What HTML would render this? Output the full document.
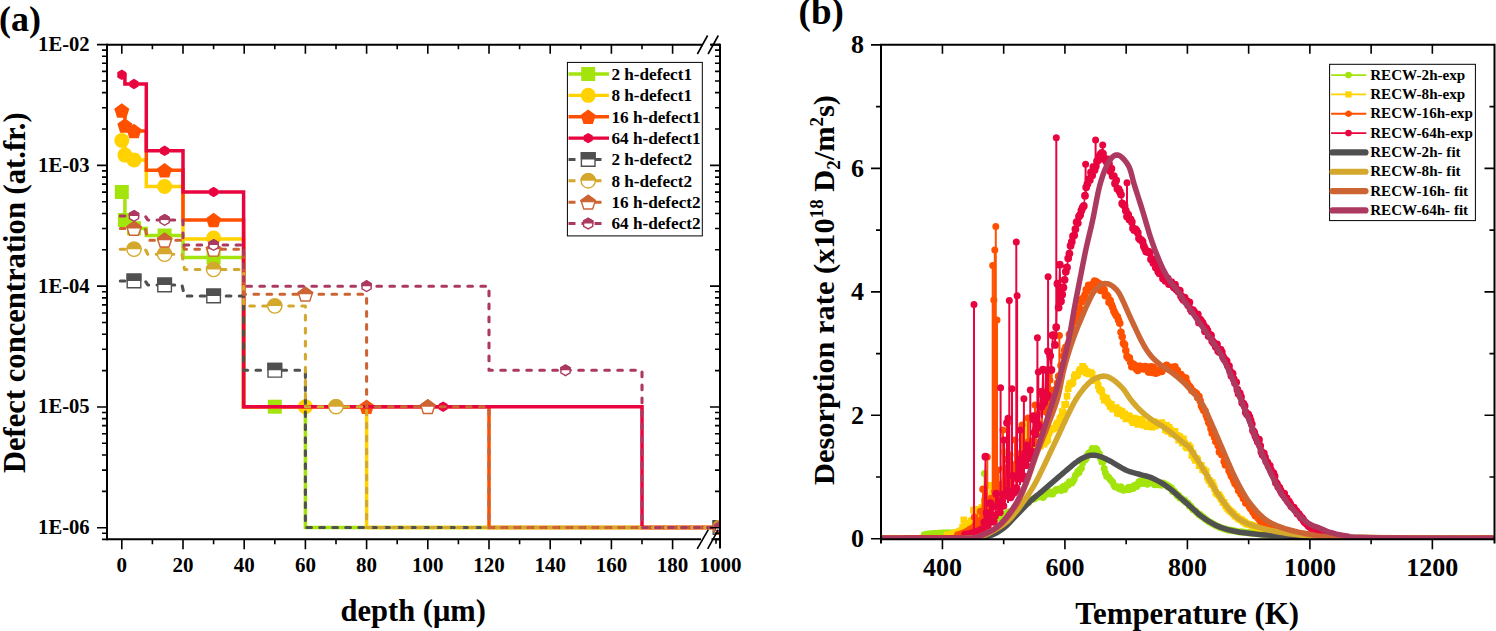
<!DOCTYPE html>
<html><head><meta charset="utf-8"><style>
html,body{margin:0;padding:0;background:#fff;}
body{width:1496px;height:631px;overflow:hidden;}
svg{display:block;}
</style></head><body>
<svg width="1496" height="631" viewBox="0 0 1496 631" font-family="'Liberation Serif', serif" font-weight="bold">
<defs><clipPath id="clipA"><rect x="107.0" y="44.8" width="613.0" height="494.40000000000003"/></clipPath>
<clipPath id="clipB"><rect x="881.0" y="44.8" width="613.5" height="494.49999999999994"/></clipPath></defs>
<rect width="1496" height="631" fill="#fff"/>
<g clip-path="url(#clipA)">
<path d="M121.8,191.9L124.9,191.9L124.9,220L134,228.5L146.3,228.5L146.3,235.6L183,235.6L183,257.5L243.6,257.5L243.6,406.7L305.4,406.7L305.4,527.5L722,527.5" fill="none" stroke="#a2e40c" stroke-width="3.5" stroke-linejoin="miter"/>
<path d="M114.8,184.9H128.8V198.9H114.8Z" fill="#a2e40c"/>
<path d="M117.9,213H131.9V227H117.9Z" fill="#a2e40c"/>
<path d="M127,221.3H141V235.3H127Z" fill="#a2e40c"/>
<path d="M157.6,228.6H171.6V242.6H157.6Z" fill="#a2e40c"/>
<path d="M206.6,250.5H220.6V264.5H206.6Z" fill="#a2e40c"/>
<path d="M267.8,399.7H281.8V413.7H267.8Z" fill="#a2e40c"/>
<path d="M713,520.5H727V534.5H713Z" fill="#a2e40c"/>
<path d="M121.8,140.5L124.9,140.5L124.9,155.1L134,159.9L146.3,159.9L146.3,186.5L183,186.5L183,239L243.6,239L243.6,406.7L366.6,406.7L366.6,527.5L722,527.5" fill="none" stroke="#ffd200" stroke-width="3.5" stroke-linejoin="miter"/>
<circle cx="121.8" cy="140.5" r="7.5" fill="#ffd200"/>
<circle cx="124.9" cy="155.1" r="7.5" fill="#ffd200"/>
<circle cx="134" cy="159.9" r="7.5" fill="#ffd200"/>
<circle cx="164.6" cy="186.5" r="7.5" fill="#ffd200"/>
<circle cx="213.6" cy="238" r="7.5" fill="#ffd200"/>
<circle cx="305.4" cy="406.7" r="7.5" fill="#ffd200"/>
<circle cx="720" cy="527.5" r="7.5" fill="#ffd200"/>
<path d="M121.8,110.5L124.9,110.5L124.9,125.5L134,131L146.3,131L146.3,170.2L183,170.2L183,220L243.6,220L243.6,406.7L489,406.7L489,527.5L722,527.5" fill="none" stroke="#ff5000" stroke-width="3.5" stroke-linejoin="miter"/>
<path d="M121.8,103.3L129.36,108.79L126.47,117.68L117.13,117.68L114.24,108.79Z" fill="#ff5000"/>
<path d="M124.9,118.3L132.46,123.79L129.57,132.68L120.23,132.68L117.34,123.79Z" fill="#ff5000"/>
<path d="M134,123.8L141.56,129.29L138.67,138.18L129.33,138.18L126.44,129.29Z" fill="#ff5000"/>
<path d="M164.6,163L172.16,168.49L169.27,177.38L159.93,177.38L157.04,168.49Z" fill="#ff5000"/>
<path d="M213.6,212.8L221.16,218.29L218.27,227.18L208.93,227.18L206.04,218.29Z" fill="#ff5000"/>
<path d="M366.6,399.5L374.16,404.99L371.27,413.88L361.93,413.88L359.04,404.99Z" fill="#ff5000"/>
<path d="M720,520.3L727.56,525.79L724.67,534.68L715.33,534.68L712.44,525.79Z" fill="#ff5000"/>
<path d="M121.8,74.8L124.9,74.8L124.9,84L146.3,84L146.3,150.8L183,150.8L183,192L243.6,192L243.6,406.7L642,406.7L642,527.5L722,527.5" fill="none" stroke="#e8043f" stroke-width="3.5" stroke-linejoin="miter"/>
<path d="M121.8,69.6L126.3,72.2L126.3,77.4L121.8,80L117.3,77.4L117.3,72.2Z" fill="#e8043f"/>
<path d="M134,78.8L138.5,81.4L138.5,86.6L134,89.2L129.5,86.6L129.5,81.4Z" fill="#e8043f"/>
<path d="M164.6,145.6L169.1,148.2L169.1,153.4L164.6,156L160.1,153.4L160.1,148.2Z" fill="#e8043f"/>
<path d="M213.6,186.8L218.1,189.4L218.1,194.6L213.6,197.2L209.1,194.6L209.1,189.4Z" fill="#e8043f"/>
<path d="M443.1,401.5L447.6,404.1L447.6,409.3L443.1,411.9L438.6,409.3L438.6,404.1Z" fill="#e8043f"/>
<path d="M720,522.3L724.5,524.9L724.5,530.1L720,532.7L715.5,530.1L715.5,524.9Z" fill="#e8043f"/>
<path d="M120.3,281L145.3,281L147.8,285L182,285L184.5,296L243.6,296L243.6,370.3L305.4,370.3L305.4,527.5L722,527.5" fill="none" stroke="#505050" stroke-width="3.1" stroke-dasharray="4.6 8.4" stroke-linecap="round" stroke-linejoin="round"/>
<path d="M127.2,274.2H140.8V287.8H127.2Z" fill="#fff" stroke="#505050" stroke-width="1.4"/>
<clipPath id="c38"><rect x="120.4" y="267.4" width="27.2" height="13.6"/></clipPath>
<path d="M127.2,274.2H140.8V287.8H127.2Z" fill="#505050" stroke="#505050" stroke-width="1.4" clip-path="url(#c38)"/>
<path d="M157.8,278.2H171.4V291.8H157.8Z" fill="#fff" stroke="#505050" stroke-width="1.4"/>
<clipPath id="c41"><rect x="151" y="271.4" width="27.2" height="13.6"/></clipPath>
<path d="M157.8,278.2H171.4V291.8H157.8Z" fill="#505050" stroke="#505050" stroke-width="1.4" clip-path="url(#c41)"/>
<path d="M206.8,289.2H220.4V302.8H206.8Z" fill="#fff" stroke="#505050" stroke-width="1.4"/>
<clipPath id="c44"><rect x="200" y="282.4" width="27.2" height="13.6"/></clipPath>
<path d="M206.8,289.2H220.4V302.8H206.8Z" fill="#505050" stroke="#505050" stroke-width="1.4" clip-path="url(#c44)"/>
<path d="M268,363.5H281.6V377.1H268Z" fill="#fff" stroke="#505050" stroke-width="1.4"/>
<clipPath id="c47"><rect x="261.2" y="356.7" width="27.2" height="13.6"/></clipPath>
<path d="M268,363.5H281.6V377.1H268Z" fill="#505050" stroke="#505050" stroke-width="1.4" clip-path="url(#c47)"/>
<path d="M713.2,520.7H726.8V534.3H713.2Z" fill="#fff" stroke="#505050" stroke-width="1.4"/>
<clipPath id="c50"><rect x="706.4" y="513.9" width="27.2" height="13.6"/></clipPath>
<path d="M713.2,520.7H726.8V534.3H713.2Z" fill="#505050" stroke="#505050" stroke-width="1.4" clip-path="url(#c50)"/>
<path d="M120.3,249.3L145.3,249.3L147.8,254.3L182,254.3L184.5,269.5L243.6,269.5L243.6,306L305.4,306L305.4,406.7L366.6,406.7L366.6,527.5L722,527.5" fill="none" stroke="#d4a82c" stroke-width="3.1" stroke-dasharray="4.6 8.4" stroke-linecap="round" stroke-linejoin="round"/>
<circle cx="134" cy="249.3" r="7.1" fill="#fff" stroke="#d4a82c" stroke-width="1.4"/>
<clipPath id="c54"><rect x="119.8" y="235.1" width="28.4" height="14.2"/></clipPath>
<circle cx="134" cy="249.3" r="7.1" fill="#d4a82c" stroke="#d4a82c" stroke-width="1.4" clip-path="url(#c54)"/>
<circle cx="164.6" cy="254.3" r="7.1" fill="#fff" stroke="#d4a82c" stroke-width="1.4"/>
<clipPath id="c57"><rect x="150.4" y="240.1" width="28.4" height="14.2"/></clipPath>
<circle cx="164.6" cy="254.3" r="7.1" fill="#d4a82c" stroke="#d4a82c" stroke-width="1.4" clip-path="url(#c57)"/>
<circle cx="213.6" cy="269.5" r="7.1" fill="#fff" stroke="#d4a82c" stroke-width="1.4"/>
<clipPath id="c60"><rect x="199.4" y="255.3" width="28.4" height="14.2"/></clipPath>
<circle cx="213.6" cy="269.5" r="7.1" fill="#d4a82c" stroke="#d4a82c" stroke-width="1.4" clip-path="url(#c60)"/>
<circle cx="274.8" cy="306" r="7.1" fill="#fff" stroke="#d4a82c" stroke-width="1.4"/>
<clipPath id="c63"><rect x="260.6" y="291.8" width="28.4" height="14.2"/></clipPath>
<circle cx="274.8" cy="306" r="7.1" fill="#d4a82c" stroke="#d4a82c" stroke-width="1.4" clip-path="url(#c63)"/>
<circle cx="336" cy="406.7" r="7.1" fill="#fff" stroke="#d4a82c" stroke-width="1.4"/>
<clipPath id="c66"><rect x="321.8" y="392.5" width="28.4" height="14.2"/></clipPath>
<circle cx="336" cy="406.7" r="7.1" fill="#d4a82c" stroke="#d4a82c" stroke-width="1.4" clip-path="url(#c66)"/>
<circle cx="720" cy="527.5" r="7.1" fill="#fff" stroke="#d4a82c" stroke-width="1.4"/>
<clipPath id="c69"><rect x="705.8" y="513.3" width="28.4" height="14.2"/></clipPath>
<circle cx="720" cy="527.5" r="7.1" fill="#d4a82c" stroke="#d4a82c" stroke-width="1.4" clip-path="url(#c69)"/>
<path d="M120.3,228.5L145.3,228.5L147.8,240.2L182,240.2L184.5,249.3L243.6,249.3L243.6,294.2L366.6,294.2L366.6,406.7L489,406.7L489,527.5L722,527.5" fill="none" stroke="#cd6434" stroke-width="3.1" stroke-dasharray="4.6 8.4" stroke-linecap="round" stroke-linejoin="round"/>
<path d="M134,221.68L141.16,226.88L138.42,235.3L129.58,235.3L126.84,226.88Z" fill="#fff" stroke="#cd6434" stroke-width="1.4"/>
<clipPath id="c73"><rect x="119.8" y="214.3" width="28.4" height="14.2"/></clipPath>
<path d="M134,221.68L141.16,226.88L138.42,235.3L129.58,235.3L126.84,226.88Z" fill="#cd6434" stroke="#cd6434" stroke-width="1.4" clip-path="url(#c73)"/>
<path d="M164.6,233.38L171.76,238.58L169.02,247L160.18,247L157.44,238.58Z" fill="#fff" stroke="#cd6434" stroke-width="1.4"/>
<clipPath id="c76"><rect x="150.4" y="226" width="28.4" height="14.2"/></clipPath>
<path d="M164.6,233.38L171.76,238.58L169.02,247L160.18,247L157.44,238.58Z" fill="#cd6434" stroke="#cd6434" stroke-width="1.4" clip-path="url(#c76)"/>
<path d="M213.6,242.48L220.76,247.68L218.02,256.1L209.18,256.1L206.44,247.68Z" fill="#fff" stroke="#cd6434" stroke-width="1.4"/>
<clipPath id="c79"><rect x="199.4" y="235.1" width="28.4" height="14.2"/></clipPath>
<path d="M213.6,242.48L220.76,247.68L218.02,256.1L209.18,256.1L206.44,247.68Z" fill="#cd6434" stroke="#cd6434" stroke-width="1.4" clip-path="url(#c79)"/>
<path d="M305.4,287.38L312.56,292.58L309.82,301L300.98,301L298.24,292.58Z" fill="#fff" stroke="#cd6434" stroke-width="1.4"/>
<clipPath id="c82"><rect x="291.2" y="280" width="28.4" height="14.2"/></clipPath>
<path d="M305.4,287.38L312.56,292.58L309.82,301L300.98,301L298.24,292.58Z" fill="#cd6434" stroke="#cd6434" stroke-width="1.4" clip-path="url(#c82)"/>
<path d="M427.8,399.88L434.96,405.08L432.22,413.5L423.38,413.5L420.64,405.08Z" fill="#fff" stroke="#cd6434" stroke-width="1.4"/>
<clipPath id="c85"><rect x="413.6" y="392.5" width="28.4" height="14.2"/></clipPath>
<path d="M427.8,399.88L434.96,405.08L432.22,413.5L423.38,413.5L420.64,405.08Z" fill="#cd6434" stroke="#cd6434" stroke-width="1.4" clip-path="url(#c85)"/>
<path d="M720,520.68L727.16,525.88L724.42,534.3L715.58,534.3L712.84,525.88Z" fill="#fff" stroke="#cd6434" stroke-width="1.4"/>
<clipPath id="c88"><rect x="705.8" y="513.3" width="28.4" height="14.2"/></clipPath>
<path d="M720,520.68L727.16,525.88L724.42,534.3L715.58,534.3L712.84,525.88Z" fill="#cd6434" stroke="#cd6434" stroke-width="1.4" clip-path="url(#c88)"/>
<path d="M120.3,216L145.3,216L147.8,220L183,220L183,245L243.6,245L243.6,286.2L489,286.2L489,370.3L642,370.3L642,527.5L722,527.5" fill="none" stroke="#ac3a60" stroke-width="3.1" stroke-dasharray="4.6 8.4" stroke-linecap="round" stroke-linejoin="round"/>
<path d="M134,210.7L138.59,213.35L138.59,218.65L134,221.3L129.41,218.65L129.41,213.35Z" fill="#fff" stroke="#ac3a60" stroke-width="1.4"/>
<clipPath id="c92"><rect x="123.4" y="205.4" width="21.2" height="10.6"/></clipPath>
<path d="M134,210.7L138.59,213.35L138.59,218.65L134,221.3L129.41,218.65L129.41,213.35Z" fill="#ac3a60" stroke="#ac3a60" stroke-width="1.4" clip-path="url(#c92)"/>
<path d="M164.6,214.7L169.19,217.35L169.19,222.65L164.6,225.3L160.01,222.65L160.01,217.35Z" fill="#fff" stroke="#ac3a60" stroke-width="1.4"/>
<clipPath id="c95"><rect x="154" y="209.4" width="21.2" height="10.6"/></clipPath>
<path d="M164.6,214.7L169.19,217.35L169.19,222.65L164.6,225.3L160.01,222.65L160.01,217.35Z" fill="#ac3a60" stroke="#ac3a60" stroke-width="1.4" clip-path="url(#c95)"/>
<path d="M213.6,239.7L218.19,242.35L218.19,247.65L213.6,250.3L209.01,247.65L209.01,242.35Z" fill="#fff" stroke="#ac3a60" stroke-width="1.4"/>
<clipPath id="c98"><rect x="203" y="234.4" width="21.2" height="10.6"/></clipPath>
<path d="M213.6,239.7L218.19,242.35L218.19,247.65L213.6,250.3L209.01,247.65L209.01,242.35Z" fill="#ac3a60" stroke="#ac3a60" stroke-width="1.4" clip-path="url(#c98)"/>
<path d="M366.6,280.9L371.19,283.55L371.19,288.85L366.6,291.5L362.01,288.85L362.01,283.55Z" fill="#fff" stroke="#ac3a60" stroke-width="1.4"/>
<clipPath id="c101"><rect x="356" y="275.6" width="21.2" height="10.6"/></clipPath>
<path d="M366.6,280.9L371.19,283.55L371.19,288.85L366.6,291.5L362.01,288.85L362.01,283.55Z" fill="#ac3a60" stroke="#ac3a60" stroke-width="1.4" clip-path="url(#c101)"/>
<path d="M565.5,365L570.09,367.65L570.09,372.95L565.5,375.6L560.91,372.95L560.91,367.65Z" fill="#fff" stroke="#ac3a60" stroke-width="1.4"/>
<clipPath id="c104"><rect x="554.9" y="359.7" width="21.2" height="10.6"/></clipPath>
<path d="M565.5,365L570.09,367.65L570.09,372.95L565.5,375.6L560.91,372.95L560.91,367.65Z" fill="#ac3a60" stroke="#ac3a60" stroke-width="1.4" clip-path="url(#c104)"/>
<path d="M720,522.2L724.59,524.85L724.59,530.15L720,532.8L715.41,530.15L715.41,524.85Z" fill="#fff" stroke="#ac3a60" stroke-width="1.4"/>
<clipPath id="c107"><rect x="709.4" y="516.9" width="21.2" height="10.6"/></clipPath>
<path d="M720,522.2L724.59,524.85L724.59,530.15L720,532.8L715.41,530.15L715.41,524.85Z" fill="#ac3a60" stroke="#ac3a60" stroke-width="1.4" clip-path="url(#c107)"/>
</g>
<path d="M107.0,43.8V540.2" stroke="#000" stroke-width="2" fill="none"/>
<path d="M107.0,44.8H702.4M710.5,44.8H720.0" stroke="#000" stroke-width="2" fill="none"/>
<path d="M107.0,539.2H701M711.5,539.2H720.0" stroke="#000" stroke-width="2" fill="none"/>
<path d="M720.0,43.8V548.5" stroke="#000" stroke-width="2" fill="none"/>
<path d="M697.4,54L707.6,35.5M708.1,54L718.3,35.5" stroke="#000" stroke-width="1.6" fill="none"/>
<path d="M697.2,548.8L708.3,529.7M707.7,548.8L718.3,529.7" stroke="#000" stroke-width="1.6" fill="none"/>
<path d="M97,44.6H107.0M720.0,44.6H710M102,129.02H107.0M720.0,129.02H715M102,107.75H107.0M720.0,107.75H715M102,92.66H107.0M720.0,92.66H715M102,80.96H107.0M720.0,80.96H715M102,71.39H107.0M720.0,71.39H715M102,63.31H107.0M720.0,63.31H715M102,56.3H107.0M720.0,56.3H715M102,50.13H107.0M720.0,50.13H715M97,165.38H107.0M720.0,165.38H710M102,249.8H107.0M720.0,249.8H715M102,228.53H107.0M720.0,228.53H715M102,213.44H107.0M720.0,213.44H715M102,201.74H107.0M720.0,201.74H715M102,192.17H107.0M720.0,192.17H715M102,184.09H107.0M720.0,184.09H715M102,177.08H107.0M720.0,177.08H715M102,170.91H107.0M720.0,170.91H715M97,286.16H107.0M720.0,286.16H710M102,370.58H107.0M720.0,370.58H715M102,349.31H107.0M720.0,349.31H715M102,334.22H107.0M720.0,334.22H715M102,322.52H107.0M720.0,322.52H715M102,312.95H107.0M720.0,312.95H715M102,304.87H107.0M720.0,304.87H715M102,297.86H107.0M720.0,297.86H715M102,291.69H107.0M720.0,291.69H715M97,406.94H107.0M720.0,406.94H710M102,491.36H107.0M720.0,491.36H715M102,470.09H107.0M720.0,470.09H715M102,455H107.0M720.0,455H715M102,443.3H107.0M720.0,443.3H715M102,433.73H107.0M720.0,433.73H715M102,425.65H107.0M720.0,425.65H715M102,418.64H107.0M720.0,418.64H715M102,412.47H107.0M720.0,412.47H715M97,527.72H107.0M720.0,527.72H710M102,533.25H107.0M720.0,533.25H715M102,533.25H107.0M720.0,533.25H715M102,539.42H107.0M720.0,539.42H715M121.8,539.2V549.2M121.8,44.8V53.8M152.4,539.2V544.2M152.4,44.8V49.3M183,539.2V549.2M183,44.8V53.8M213.6,539.2V544.2M213.6,44.8V49.3M244.2,539.2V549.2M244.2,44.8V53.8M274.8,539.2V544.2M274.8,44.8V49.3M305.4,539.2V549.2M305.4,44.8V53.8M336,539.2V544.2M336,44.8V49.3M366.6,539.2V549.2M366.6,44.8V53.8M397.2,539.2V544.2M397.2,44.8V49.3M427.8,539.2V549.2M427.8,44.8V53.8M458.4,539.2V544.2M458.4,44.8V49.3M489,539.2V549.2M489,44.8V53.8M519.6,539.2V544.2M519.6,44.8V49.3M550.2,539.2V549.2M550.2,44.8V53.8M580.8,539.2V544.2M580.8,44.8V49.3M611.4,539.2V549.2M611.4,44.8V53.8M642,539.2V544.2M642,44.8V49.3M672.6,539.2V549.2M672.6,44.8V53.8M716,539.2V543.7" stroke="#000" stroke-width="1.6" fill="none"/>
<rect x="567.4" y="62.4" width="134.9" height="173.5" fill="#fff" stroke="#000" stroke-width="1"/>
<path d="M568.5,74H609" stroke="#a2e40c" stroke-width="3.4" fill="none"/>
<path d="M581.2,67H595.2V81H581.2Z" fill="#a2e40c"/>
<text x="611.4" y="79.8" font-size="17.2">2 h-defect1</text>
<path d="M568.5,95.37H609" stroke="#ffd200" stroke-width="3.4" fill="none"/>
<circle cx="588.2" cy="95.37" r="7.5" fill="#ffd200"/>
<text x="611.4" y="101.17" font-size="17.2">8 h-defect1</text>
<path d="M568.5,116.74H609" stroke="#ff5000" stroke-width="3.4" fill="none"/>
<path d="M588.2,109.54L595.76,115.03L592.87,123.92L583.53,123.92L580.64,115.03Z" fill="#ff5000"/>
<text x="611.4" y="122.54" font-size="17.2">16 h-defect1</text>
<path d="M568.5,138.11H609" stroke="#e8043f" stroke-width="3.4" fill="none"/>
<path d="M588.2,132.91L592.7,135.51L592.7,140.71L588.2,143.31L583.7,140.71L583.7,135.51Z" fill="#e8043f"/>
<text x="611.4" y="143.91" font-size="17.2">64 h-defect1</text>
<path d="M568.5,159.48H601.5" stroke="#505050" stroke-width="3" stroke-dasharray="7 6" fill="none"/>
<path d="M581.4,152.68H595V166.28H581.4Z" fill="#fff" stroke="#505050" stroke-width="1.4"/>
<clipPath id="c132"><rect x="574.6" y="145.88" width="27.2" height="13.6"/></clipPath>
<path d="M581.4,152.68H595V166.28H581.4Z" fill="#505050" stroke="#505050" stroke-width="1.4" clip-path="url(#c132)"/>
<text x="611.4" y="165.28" font-size="17.2">2 h-defect2</text>
<path d="M568.5,180.85H601.5" stroke="#d4a82c" stroke-width="3" stroke-dasharray="7 6" fill="none"/>
<circle cx="588.2" cy="180.85" r="7.1" fill="#fff" stroke="#d4a82c" stroke-width="1.4"/>
<clipPath id="c137"><rect x="574" y="166.65" width="28.4" height="14.2"/></clipPath>
<circle cx="588.2" cy="180.85" r="7.1" fill="#d4a82c" stroke="#d4a82c" stroke-width="1.4" clip-path="url(#c137)"/>
<text x="611.4" y="186.65" font-size="17.2">8 h-defect2</text>
<path d="M568.5,202.22H601.5" stroke="#cd6434" stroke-width="3" stroke-dasharray="7 6" fill="none"/>
<path d="M588.2,195.4L595.36,200.6L592.62,209.02L583.78,209.02L581.04,200.6Z" fill="#fff" stroke="#cd6434" stroke-width="1.4"/>
<clipPath id="c142"><rect x="574" y="188.02" width="28.4" height="14.2"/></clipPath>
<path d="M588.2,195.4L595.36,200.6L592.62,209.02L583.78,209.02L581.04,200.6Z" fill="#cd6434" stroke="#cd6434" stroke-width="1.4" clip-path="url(#c142)"/>
<text x="611.4" y="208.02" font-size="17.2">16 h-defect2</text>
<path d="M568.5,223.59H601.5" stroke="#ac3a60" stroke-width="3" stroke-dasharray="7 6" fill="none"/>
<path d="M588.2,218.29L592.79,220.94L592.79,226.24L588.2,228.89L583.61,226.24L583.61,220.94Z" fill="#fff" stroke="#ac3a60" stroke-width="1.4"/>
<clipPath id="c147"><rect x="577.6" y="212.99" width="21.2" height="10.6"/></clipPath>
<path d="M588.2,218.29L592.79,220.94L592.79,226.24L588.2,228.89L583.61,226.24L583.61,220.94Z" fill="#ac3a60" stroke="#ac3a60" stroke-width="1.4" clip-path="url(#c147)"/>
<text x="611.4" y="229.39" font-size="17.2">64 h-defect2</text>
<text x="89.6" y="51.1" font-size="20.6" text-anchor="end">1E-02</text>
<text x="89.6" y="171.88" font-size="20.6" text-anchor="end">1E-03</text>
<text x="89.6" y="292.66" font-size="20.6" text-anchor="end">1E-04</text>
<text x="89.6" y="413.44" font-size="20.6" text-anchor="end">1E-05</text>
<text x="89.6" y="534.22" font-size="20.6" text-anchor="end">1E-06</text>
<text x="121.8" y="572.3" font-size="21" text-anchor="middle">0</text>
<text x="183" y="572.3" font-size="21" text-anchor="middle">20</text>
<text x="244.2" y="572.3" font-size="21" text-anchor="middle">40</text>
<text x="305.4" y="572.3" font-size="21" text-anchor="middle">60</text>
<text x="366.6" y="572.3" font-size="21" text-anchor="middle">80</text>
<text x="427.8" y="572.3" font-size="21" text-anchor="middle">100</text>
<text x="489" y="572.3" font-size="21" text-anchor="middle">120</text>
<text x="550.2" y="572.3" font-size="21" text-anchor="middle">140</text>
<text x="611.4" y="572.3" font-size="21" text-anchor="middle">160</text>
<text x="672.6" y="572.3" font-size="21" text-anchor="middle">180</text>
<text x="720.5" y="572.3" font-size="21" text-anchor="middle">1000</text>
<text x="413.2" y="621" font-size="30.5" text-anchor="middle">depth (<tspan>μ</tspan>m)</text>
<text transform="translate(25.4,292.7) rotate(-90)" font-size="30.6" text-anchor="middle">Defect concentration (at.fr.)</text>
<text x="-0.9" y="30.5" font-size="36">(a)</text>
<g clip-path="url(#clipB)">
<path d="M881,536L882.2,536L883.4,536.01L884.6,536.01L885.8,536.02L887,536.03L888.2,536.03L889.4,536.04L890.6,536.05L891.8,536.06L893,536.06L894.2,536.07L895.4,536.08L896.6,536.08L897.8,536.09L899,536.09L900.2,536.1L901.4,536.1L902.6,536.1L903.8,536.11L905,536.11L906.2,536.11L907.4,536.11L908.6,536.11L909.8,536.1L911,536.1L912.2,536.09L913.4,536.08L914.6,536.07L915.8,536.05L917,536.02L918.2,535.99L919.4,535.93L920.6,535.84L921.8,535.7L923,535.38L924.2,534.7L925.4,534.44L926.6,534.26L927.8,534.16L929,534.01L930.2,533.87L931.4,533.84L932.6,533.73L933.8,533.54L935,533.51L936.2,533.42L937.4,533.41L938.6,533.31L939.8,533.15L941,533.25L942.2,533L943.4,533.03L944.6,533.07L945.8,532.9L947,532.96L948.2,532.83L949.4,532.98L950.6,533L951.8,532.96L953,533.05L954.2,532.94L955.4,533.06L956.6,533.11L957.8,533.21L959,533.3L960.2,533.49L961.4,533.61L962.6,533.57L963.8,533.6L965,533.41L966.2,533.4L967.4,533.21L968.6,533.08L969.8,532.79L971,532.33L972.2,532L973.4,531.68L974.6,530.98L975.8,530.62L977,529.87L978.2,529.13L979.4,528.34L980.6,528L981.8,526.78L983,526.06L984.2,525.4L985.4,525.09L986.6,523.62L987.8,523.21L989,522.56L990.2,522.2L991.4,521.41L992.6,520.78L993.8,519.35L995,518.88L996.2,518.19L997.4,518.36L998.6,517.92L999.8,516.14L1001,515.62L1002.2,515.16L1003.4,514.61L1004.6,514.5L1005.8,514.15L1007,513.03L1008.2,511.99L1009.4,512.22L1010.6,511.59L1011.8,511.46L1013,511.73L1014.2,510.68L1015.4,509.79L1016.6,509.45L1017.8,509L1019,507L1020.2,508.25L1021.4,507.28L1022.6,506.78L1023.8,505.85L1025,504.07L1026.2,503.31L1027.4,501.78L1028.6,502.49L1029.8,500.26L1031,499.65L1032.2,499.48L1033.4,498.83L1034.6,498.86L1035.8,497.55L1037,496.94L1038.2,496.95L1039.4,496.35L1040.6,496.71L1041.8,495.18L1043,497.39L1044.2,496.09L1045.4,494.09L1046.6,493.93L1047.8,493.75L1049,493.32L1050.2,492L1051.4,494.01L1052.6,494.04L1053.8,491.73L1055,491.35L1056.2,489.52L1057.4,489.17L1058.6,489.66L1059.8,488.96L1061,490.62L1062.2,487.62L1063.4,486.51L1064.6,489.39L1065.8,486.94L1067,484.47L1068.2,484.99L1069.4,481.66L1070.6,482.48L1071.8,483.1L1073,481.19L1074.2,478.98L1075.4,475.39L1076.6,474.21L1077.8,471.38L1079,472.51L1080.2,469.15L1081.4,468.24L1082.6,463.07L1083.8,459.49L1085,460.12L1086.2,458.47L1087.4,455.21L1088.6,453.23L1089.8,452.4L1091,451.63L1092.2,448.5L1093.4,450.61L1094.6,449.91L1095.8,448.46L1097,449.43L1098.2,452.32L1099.4,453.65L1100.6,458.18L1101.8,462.03L1103,461.75L1104.2,468.43L1105.4,472.87L1106.6,476.37L1107.8,476.42L1109,477.85L1110.2,479.55L1111.4,480.8L1112.6,482.03L1113.8,484.82L1115,486.84L1116.2,487.37L1117.4,486.64L1118.6,487.94L1119.8,489.02L1121,486.71L1122.2,489.22L1123.4,490.37L1124.6,489.98L1125.8,489.85L1127,488.72L1128.2,487.4L1129.4,489.42L1130.6,487.25L1131.8,488.51L1133,488.58L1134.2,485.62L1135.4,484.93L1136.6,486.44L1137.8,484.84L1139,481.84L1140.2,481.04L1141.4,480.64L1142.6,483.57L1143.8,482.98L1145,480.12L1146.2,483.23L1147.4,484.15L1148.6,482.99L1149.8,481.84L1151,482.76L1152.2,481.01L1153.4,480.53L1154.6,484.64L1155.8,483.31L1157,482.88L1158.2,484.75L1159.4,482.85L1160.6,485L1161.8,485.14L1163,482.95L1164.2,483.58L1165.4,484.29L1166.6,484.71L1167.8,486.82L1169,486.35L1170.2,487.85L1171.4,487.71L1172.6,491.61L1173.8,490.64L1175,492.11L1176.2,493.65L1177.4,495.83L1178.6,495.37L1179.8,498.07L1181,497.9L1182.2,499.12L1183.4,500.21L1184.6,499.9L1185.8,502.16L1187,502.57L1188.2,503.23L1189.4,506.31L1190.6,505.93L1191.8,507.75L1193,509.41L1194.2,510.14L1195.4,510.76L1196.6,512.21L1197.8,513.31L1199,514.7L1200.2,514.53L1201.4,516.21L1202.6,516.62L1203.8,517.53L1205,519.06L1206.2,519.5L1207.4,520.38L1208.6,521.4L1209.8,522.34L1211,522.57L1212.2,523.47L1213.4,524.06L1214.6,524.72L1215.8,525.51L1217,525.89L1218.2,526.52L1219.4,526.99L1220.6,527.79L1221.8,528.07L1223,528.59L1224.2,529L1225.4,528.97L1226.6,529.46L1227.8,529.96L1229,530.17L1230.2,530.1L1231.4,530.34L1232.6,530.7L1233.8,530.77L1235,531.02L1236.2,531.15L1237.4,531.54L1238.6,531.74L1239.8,531.93L1241,531.82L1242.2,532.14L1243.4,532.26L1244.6,532.23L1245.8,532.56L1247,532.7L1248.2,532.61L1249.4,532.92L1250.6,532.89L1251.8,533.02L1253,533.25L1254.2,533.32L1255.4,533.28L1256.6,533.45L1257.8,533.59L1259,533.69L1260.2,533.81L1261.4,534.01L1262.6,534.28L1263.8,534.41L1265,534.67L1266.2,534.81L1267.4,534.86L1268.6,534.98L1269.8,535.06L1271,535.11L1272.2,535.13L1273.4,535.23L1274.6,535.25L1275.8,535.29L1277,535.28L1278.2,535.32L1279.4,535.33L1280.6,535.39L1281.8,535.39L1283,535.4L1284.2,535.44L1285.4,535.48L1286.6,535.5L1287.8,535.49L1289,535.5L1290.2,535.54L1291.4,535.54L1292.6,535.56L1293.8,535.56L1295,535.57L1296.2,535.61L1297.4,535.61L1298.6,535.61L1299.8,535.64L1301,535.64L1302.2,535.66L1303.4,535.65L1304.6,535.68L1305.8,535.66L1307,535.69L1308.2,535.69L1309.4,535.7L1310.6,535.71L1311.8,535.73L1313,535.72L1314.2,535.72L1315.4,535.73L1316.6,535.73L1317.8,535.74L1319,535.74L1320.2,535.75L1321.4,535.76L1322.6,535.76L1323.8,535.77L1325,535.78L1326.2,535.78L1327.4,535.79L1328.6,535.79L1329.8,535.8L1331,535.79L1332.2,535.8L1333.4,535.8L1334.6,535.82L1335.8,535.82L1337,535.82L1338.2,535.82L1339.4,535.83L1340.6,535.82L1341.8,535.84L1343,535.84L1344.2,535.84L1345.4,535.85L1346.6,535.85L1347.8,535.85L1349,535.86L1350.2,535.86L1351.4,535.86L1352.6,535.87L1353.8,535.87L1355,535.87L1356.2,535.87L1357.4,535.87L1358.6,535.87L1359.8,535.87L1361,535.87L1362.2,535.88L1363.4,535.88L1364.6,535.88L1365.8,535.88L1367,535.89L1368.2,535.9L1369.4,535.9L1370.6,535.89L1371.8,535.9L1373,535.9L1374.2,535.9L1375.4,535.9L1376.6,535.91L1377.8,535.91L1379,535.91L1380.2,535.91L1381.4,535.91L1382.6,535.91L1383.8,535.92L1385,535.91L1386.2,535.92L1387.4,535.92L1388.6,535.92L1389.8,535.92L1391,535.92L1392.2,535.92L1393.4,535.93L1394.6,535.92L1395.8,535.93L1397,535.93L1398.2,535.93L1399.4,535.93L1400.6,535.93L1401.8,535.93L1403,535.93L1404.2,535.94L1405.4,535.94L1406.6,535.94L1407.8,535.94L1409,535.94L1410.2,535.94L1411.4,535.94L1412.6,535.94L1413.8,535.95L1415,535.94L1416.2,535.95L1417.4,535.95L1418.6,535.95L1419.8,535.95L1421,535.95L1422.2,535.95L1423.4,535.95L1424.6,535.95L1425.8,535.95L1427,535.95L1428.2,535.95L1429.4,535.96L1430.6,535.96L1431.8,535.96L1433,535.96L1434.2,535.96L1435.4,535.96L1436.6,535.96L1437.8,535.96L1439,535.96L1440.2,535.96L1441.4,535.96L1442.6,535.96L1443.8,535.96L1445,535.96L1446.2,535.96L1447.4,535.96L1448.6,535.97L1449.8,535.97L1451,535.96L1452.2,535.97L1453.4,535.97L1454.6,535.97L1455.8,535.97L1457,535.97L1458.2,535.97L1459.4,535.97L1460.6,535.97L1461.8,535.97L1463,535.97L1464.2,535.97L1465.4,535.97L1466.6,535.97L1467.8,535.98L1469,535.98L1470.2,535.98L1471.4,535.98L1472.6,535.98L1473.8,535.98L1475,535.98L1476.2,535.98L1477.4,535.98L1478.6,535.98L1479.8,535.98L1481,535.98L1482.2,535.98L1483.4,535.99L1484.6,535.99L1485.8,535.99L1487,535.99L1488.2,535.99L1489.4,535.99L1490.6,536L1491.8,536L1493,536" fill="none" stroke="#a2e40c" stroke-width="1.6"/>
<path d="M924.2,534.7h0M925.4,534.44h0M926.6,534.26h0M927.8,534.16h0M929,534.01h0M930.2,533.87h0M931.4,533.84h0M932.6,533.73h0M933.8,533.54h0M935,533.51h0M936.2,533.42h0M937.4,533.41h0M938.6,533.31h0M939.8,533.15h0M941,533.25h0M942.2,533h0M943.4,533.03h0M944.6,533.07h0M945.8,532.9h0M947,532.96h0M948.2,532.83h0M949.4,532.98h0M950.6,533h0M951.8,532.96h0M953,533.05h0M954.2,532.94h0M955.4,533.06h0M956.6,533.11h0M957.8,533.21h0M959,533.3h0M960.2,533.49h0M961.4,533.61h0M962.6,533.57h0M963.8,533.6h0M965,533.41h0M966.2,533.4h0M967.4,533.21h0M968.6,533.08h0M969.8,532.79h0M971,532.33h0M972.2,532h0M973.4,531.68h0M974.6,530.98h0M975.8,530.62h0M977,529.87h0M978.2,529.13h0M979.4,528.34h0M980.6,528h0M981.8,526.78h0M983,526.06h0M984.2,525.4h0M985.4,525.09h0M986.6,523.62h0M987.8,523.21h0M989,522.56h0M990.2,522.2h0M991.4,521.41h0M992.6,520.78h0M993.8,519.35h0M995,518.88h0M996.2,518.19h0M997.4,518.36h0M998.6,517.92h0M999.8,516.14h0M1001,515.62h0M1002.2,515.16h0M1003.4,514.61h0M1004.6,514.5h0M1005.8,514.15h0M1007,513.03h0M1008.2,511.99h0M1009.4,512.22h0M1010.6,511.59h0M1011.8,511.46h0M1013,511.73h0M1014.2,510.68h0M1015.4,509.79h0M1016.6,509.45h0M1017.8,509h0M1019,507h0M1020.2,508.25h0M1021.4,507.28h0M1022.6,506.78h0M1023.8,505.85h0M1025,504.07h0M1026.2,503.31h0M1027.4,501.78h0M1028.6,502.49h0M1029.8,500.26h0M1031,499.65h0M1032.2,499.48h0M1033.4,498.83h0M1034.6,498.86h0M1035.8,497.55h0M1037,496.94h0M1038.2,496.95h0M1039.4,496.35h0M1040.6,496.71h0M1041.8,495.18h0M1043,497.39h0M1044.2,496.09h0M1045.4,494.09h0M1046.6,493.93h0M1047.8,493.75h0M1049,493.32h0M1050.2,492h0M1051.4,494.01h0M1052.6,494.04h0M1053.8,491.73h0M1055,491.35h0M1056.2,489.52h0M1057.4,489.17h0M1058.6,489.66h0M1059.8,488.96h0M1061,490.62h0M1062.2,487.62h0M1063.4,486.51h0M1064.6,489.39h0M1065.8,486.94h0M1067,484.47h0M1068.2,484.99h0M1069.4,481.66h0M1070.6,482.48h0M1071.8,483.1h0M1073,481.19h0M1074.2,478.98h0M1075.4,475.39h0M1076.6,474.21h0M1077.8,471.38h0M1079,472.51h0M1080.2,469.15h0M1081.4,468.24h0M1082.6,463.07h0M1083.8,459.49h0M1085,460.12h0M1086.2,458.47h0M1087.4,455.21h0M1088.6,453.23h0M1089.8,452.4h0M1091,451.63h0M1092.2,448.5h0M1093.4,450.61h0M1094.6,449.91h0M1095.8,448.46h0M1097,449.43h0M1098.2,452.32h0M1099.4,453.65h0M1100.6,458.18h0M1101.8,462.03h0M1103,461.75h0M1104.2,468.43h0M1105.4,472.87h0M1106.6,476.37h0M1107.8,476.42h0M1109,477.85h0M1110.2,479.55h0M1111.4,480.8h0M1112.6,482.03h0M1113.8,484.82h0M1115,486.84h0M1116.2,487.37h0M1117.4,486.64h0M1118.6,487.94h0M1119.8,489.02h0M1121,486.71h0M1122.2,489.22h0M1123.4,490.37h0M1124.6,489.98h0M1125.8,489.85h0M1127,488.72h0M1128.2,487.4h0M1129.4,489.42h0M1130.6,487.25h0M1131.8,488.51h0M1133,488.58h0M1134.2,485.62h0M1135.4,484.93h0M1136.6,486.44h0M1137.8,484.84h0M1139,481.84h0M1140.2,481.04h0M1141.4,480.64h0M1142.6,483.57h0M1143.8,482.98h0M1145,480.12h0M1146.2,483.23h0M1147.4,484.15h0M1148.6,482.99h0M1149.8,481.84h0M1151,482.76h0M1152.2,481.01h0M1153.4,480.53h0M1154.6,484.64h0M1155.8,483.31h0M1157,482.88h0M1158.2,484.75h0M1159.4,482.85h0M1160.6,485h0M1161.8,485.14h0M1163,482.95h0M1164.2,483.58h0M1165.4,484.29h0M1166.6,484.71h0M1167.8,486.82h0M1169,486.35h0M1170.2,487.85h0M1171.4,487.71h0M1172.6,491.61h0M1173.8,490.64h0M1175,492.11h0M1176.2,493.65h0M1177.4,495.83h0M1178.6,495.37h0M1179.8,498.07h0M1181,497.9h0M1182.2,499.12h0M1183.4,500.21h0M1184.6,499.9h0M1185.8,502.16h0M1187,502.57h0M1188.2,503.23h0M1189.4,506.31h0M1190.6,505.93h0M1191.8,507.75h0M1193,509.41h0M1194.2,510.14h0M1195.4,510.76h0M1196.6,512.21h0M1197.8,513.31h0M1199,514.7h0M1200.2,514.53h0M1201.4,516.21h0M1202.6,516.62h0M1203.8,517.53h0M1205,519.06h0M1206.2,519.5h0M1207.4,520.38h0M1208.6,521.4h0M1209.8,522.34h0M1211,522.57h0M1212.2,523.47h0M1213.4,524.06h0M1214.6,524.72h0M1215.8,525.51h0M1217,525.89h0M1218.2,526.52h0M1219.4,526.99h0M1220.6,527.79h0M1221.8,528.07h0M1223,528.59h0M1224.2,529h0M1225.4,528.97h0M1226.6,529.46h0M1227.8,529.96h0M1229,530.17h0M1230.2,530.1h0M1231.4,530.34h0M1232.6,530.7h0M1233.8,530.77h0M1235,531.02h0M1236.2,531.15h0M1237.4,531.54h0M1238.6,531.74h0M1239.8,531.93h0M1241,531.82h0M1242.2,532.14h0M1243.4,532.26h0M1244.6,532.23h0M1245.8,532.56h0M1247,532.7h0M1248.2,532.61h0M1249.4,532.92h0M1250.6,532.89h0M1251.8,533.02h0M1253,533.25h0M1254.2,533.32h0M1255.4,533.28h0M1256.6,533.45h0M1257.8,533.59h0M1259,533.69h0M1260.2,533.81h0M1261.4,534.01h0M1262.6,534.28h0M1263.8,534.41h0M1265,534.67h0M1266.2,534.81h0M1267.4,534.86h0M1268.6,534.98h0M1269.8,535.06h0M1271,535.11h0M1272.2,535.13h0" fill="none" stroke="#a2e40c" stroke-width="7.0" stroke-linecap="round"/>
<path d="M984.5,525.31V473.6" fill="none" stroke="#a2e40c" stroke-width="2"/>
<path d="M984.5,473.6h0" fill="none" stroke="#a2e40c" stroke-width="7" stroke-linecap="round"/>
<path d="M881,536L882.2,536L883.4,536L884.6,536.01L885.8,536.01L887,536.01L888.2,536.01L889.4,536.02L890.6,536.02L891.8,536.02L893,536.03L894.2,536.03L895.4,536.03L896.6,536.04L897.8,536.04L899,536.04L900.2,536.05L901.4,536.05L902.6,536.05L903.8,536.05L905,536.06L906.2,536.06L907.4,536.06L908.6,536.06L909.8,536.07L911,536.07L912.2,536.07L913.4,536.07L914.6,536.07L915.8,536.07L917,536.07L918.2,536.07L919.4,536.07L920.6,536.07L921.8,536.07L923,536.07L924.2,536.07L925.4,536.06L926.6,536.06L927.8,536.06L929,536.05L930.2,536.04L931.4,536.04L932.6,536.02L933.8,536.01L935,536L936.2,535.98L937.4,535.96L938.6,535.94L939.8,535.91L941,535.87L942.2,535.82L943.4,535.75L944.6,535.63L945.8,535.45L947,535.17L948.2,535L949.4,534.71L950.6,534.44L951.8,534.18L953,533.79L954.2,533.44L955.4,533.16L956.6,532.69L957.8,532.18L959,531.58L960.2,531.08L961.4,530.44L962.6,527.04L963.8,519.83L965,526.96L966.2,525.77L967.4,523.32L968.6,523.27L969.8,523.24L971,521.38L972.2,520.2L973.4,509.96L974.6,514.42L975.8,509.3L977,515.35L978.2,509.42L979.4,513.17L980.6,509.75L981.8,507.67L983,508.5L984.2,501.71L985.4,504.95L986.6,503.58L987.8,497.91L989,503.74L990.2,485.42L991.4,497.83L992.6,498.03L993.8,492.62L995,495.53L996.2,478.69L997.4,490.36L998.6,490.23L999.8,485.19L1001,486.72L1002.2,486.63L1003.4,481.12L1004.6,484.3L1005.8,477.06L1007,480.62L1008.2,476.64L1009.4,464.26L1010.6,474.15L1011.8,471.86L1013,472.77L1014.2,472.45L1015.4,470.72L1016.6,468.67L1017.8,464.33L1019,464.2L1020.2,462.26L1021.4,455.53L1022.6,461.67L1023.8,460.04L1025,456.04L1026.2,458.51L1027.4,457.45L1028.6,454.79L1029.8,454.8L1031,452.52L1032.2,452.1L1033.4,448.87L1034.6,447.78L1035.8,449.06L1037,445.38L1038.2,445.47L1039.4,446.08L1040.6,445.95L1041.8,440.94L1043,442.13L1044.2,444.17L1045.4,442.04L1046.6,440.65L1047.8,439.72L1049,433.26L1050.2,430.43L1051.4,428.73L1052.6,429.11L1053.8,428.23L1055,428.13L1056.2,425.16L1057.4,423.2L1058.6,422.45L1059.8,418.82L1061,417.41L1062.2,411.43L1063.4,412.6L1064.6,404.64L1065.8,404.27L1067,396.12L1068.2,388.8L1069.4,384.79L1070.6,383.33L1071.8,383.78L1073,382.3L1074.2,376.73L1075.4,374.64L1076.6,375.78L1077.8,374.52L1079,371.82L1080.2,369.54L1081.4,370.88L1082.6,366.35L1083.8,368L1085,369.23L1086.2,372.9L1087.4,371.6L1088.6,374.07L1089.8,372.63L1091,372.51L1092.2,374.22L1093.4,380.56L1094.6,380.8L1095.8,380.23L1097,380.44L1098.2,385.71L1099.4,389.3L1100.6,390.23L1101.8,391.66L1103,396.5L1104.2,400.23L1105.4,397.74L1106.6,398.29L1107.8,401.78L1109,403.62L1110.2,406.39L1111.4,404.2L1112.6,408.84L1113.8,409.26L1115,408.56L1116.2,407.46L1117.4,413.19L1118.6,409.82L1119.8,413.92L1121,410.99L1122.2,411.76L1123.4,416.04L1124.6,413.86L1125.8,418.85L1127,416.69L1128.2,415.46L1129.4,416.37L1130.6,418.26L1131.8,420.43L1133,422.77L1134.2,418.08L1135.4,420.06L1136.6,419.26L1137.8,424.45L1139,419.41L1140.2,419.1L1141.4,419.41L1142.6,421.78L1143.8,425.27L1145,425.45L1146.2,424.79L1147.4,426.76L1148.6,426.58L1149.8,422.94L1151,422.24L1152.2,427.27L1153.4,426.25L1154.6,421.82L1155.8,425.99L1157,424.28L1158.2,424.38L1159.4,424.26L1160.6,423.42L1161.8,422.6L1163,424.68L1164.2,425.54L1165.4,429.92L1166.6,425.24L1167.8,431.38L1169,427.37L1170.2,429.24L1171.4,433.19L1172.6,434.21L1173.8,432.78L1175,431.4L1176.2,435.21L1177.4,435.65L1178.6,440.2L1179.8,436.55L1181,438.63L1182.2,443.13L1183.4,438.84L1184.6,442.69L1185.8,446.76L1187,448.03L1188.2,444.98L1189.4,446.56L1190.6,448.39L1191.8,455.54L1193,452.97L1194.2,457.8L1195.4,460.42L1196.6,458.67L1197.8,460.02L1199,465.79L1200.2,465.56L1201.4,465.35L1202.6,469.63L1203.8,469.32L1205,470.99L1206.2,471.58L1207.4,477.27L1208.6,480.03L1209.8,480.79L1211,484.23L1212.2,482.52L1213.4,485.56L1214.6,488.61L1215.8,492.41L1217,494.31L1218.2,494.24L1219.4,495.61L1220.6,497.9L1221.8,499.77L1223,502.63L1224.2,502.27L1225.4,505.49L1226.6,506.88L1227.8,508.58L1229,509.92L1230.2,510.97L1231.4,511.76L1232.6,513.05L1233.8,514.32L1235,516.13L1236.2,516.08L1237.4,517.23L1238.6,518.95L1239.8,519.08L1241,519.67L1242.2,520.39L1243.4,521.72L1244.6,522.13L1245.8,523.45L1247,523.91L1248.2,524.56L1249.4,524.39L1250.6,524.75L1251.8,525.24L1253,526.03L1254.2,526.6L1255.4,526.82L1256.6,527.05L1257.8,527.55L1259,528.04L1260.2,528.41L1261.4,528.79L1262.6,529.15L1263.8,529.35L1265,529.37L1266.2,530.01L1267.4,530.03L1268.6,530.42L1269.8,530.57L1271,530.96L1272.2,530.97L1273.4,531.21L1274.6,531.42L1275.8,531.6L1277,532.03L1278.2,532.11L1279.4,532.22L1280.6,532.41L1281.8,532.74L1283,532.77L1284.2,532.86L1285.4,533.15L1286.6,533.26L1287.8,533.48L1289,533.43L1290.2,533.64L1291.4,533.84L1292.6,533.97L1293.8,534.1L1295,534.09L1296.2,534.25L1297.4,534.35L1298.6,534.47L1299.8,534.68L1301,534.74L1302.2,534.88L1303.4,534.94L1304.6,535.08L1305.8,535.16L1307,535.25L1308.2,535.39L1309.4,535.51L1310.6,535.59L1311.8,535.7L1313,535.78L1314.2,535.82L1315.4,535.85L1316.6,535.87L1317.8,535.89L1319,535.9L1320.2,535.91L1321.4,535.92L1322.6,535.92L1323.8,535.93L1325,535.93L1326.2,535.94L1327.4,535.94L1328.6,535.95L1329.8,535.95L1331,535.96L1332.2,535.96L1333.4,535.97L1334.6,535.97L1335.8,535.98L1337,535.99L1338.2,535.99L1339.4,536L1340.6,536L1341.8,536.01L1343,536.01L1344.2,536.02L1345.4,536.02L1346.6,536.02L1347.8,536.03L1349,536.03L1350.2,536.04L1351.4,536.04L1352.6,536.04L1353.8,536.04L1355,536.05L1356.2,536.05L1357.4,536.05L1358.6,536.05L1359.8,536.05L1361,536.06L1362.2,536.06L1363.4,536.06L1364.6,536.06L1365.8,536.06L1367,536.06L1368.2,536.07L1369.4,536.07L1370.6,536.07L1371.8,536.07L1373,536.07L1374.2,536.07L1375.4,536.07L1376.6,536.07L1377.8,536.07L1379,536.07L1380.2,536.07L1381.4,536.07L1382.6,536.07L1383.8,536.07L1385,536.07L1386.2,536.07L1387.4,536.07L1388.6,536.07L1389.8,536.07L1391,536.07L1392.2,536.07L1393.4,536.07L1394.6,536.07L1395.8,536.07L1397,536.07L1398.2,536.07L1399.4,536.07L1400.6,536.07L1401.8,536.07L1403,536.07L1404.2,536.07L1405.4,536.07L1406.6,536.07L1407.8,536.07L1409,536.07L1410.2,536.07L1411.4,536.07L1412.6,536.07L1413.8,536.07L1415,536.06L1416.2,536.06L1417.4,536.06L1418.6,536.06L1419.8,536.06L1421,536.06L1422.2,536.06L1423.4,536.06L1424.6,536.06L1425.8,536.06L1427,536.06L1428.2,536.06L1429.4,536.05L1430.6,536.05L1431.8,536.05L1433,536.05L1434.2,536.05L1435.4,536.05L1436.6,536.05L1437.8,536.05L1439,536.05L1440.2,536.05L1441.4,536.04L1442.6,536.04L1443.8,536.04L1445,536.04L1446.2,536.04L1447.4,536.04L1448.6,536.04L1449.8,536.04L1451,536.04L1452.2,536.03L1453.4,536.03L1454.6,536.03L1455.8,536.03L1457,536.03L1458.2,536.03L1459.4,536.03L1460.6,536.03L1461.8,536.03L1463,536.02L1464.2,536.02L1465.4,536.02L1466.6,536.02L1467.8,536.02L1469,536.02L1470.2,536.02L1471.4,536.02L1472.6,536.01L1473.8,536.01L1475,536.01L1476.2,536.01L1477.4,536.01L1478.6,536.01L1479.8,536.01L1481,536.01L1482.2,536.01L1483.4,536.01L1484.6,536L1485.8,536L1487,536L1488.2,536L1489.4,536L1490.6,536L1491.8,536L1493,536" fill="none" stroke="#ffd200" stroke-width="1.6"/>
<path d="M947,535.17h0M948.2,535h0M949.4,534.71h0M950.6,534.44h0M951.8,534.18h0M953,533.79h0M954.2,533.44h0M955.4,533.16h0M956.6,532.69h0M957.8,532.18h0M959,531.58h0M960.2,531.08h0M961.4,530.44h0M962.6,527.04h0M963.8,519.83h0M965,526.96h0M966.2,525.77h0M967.4,523.32h0M968.6,523.27h0M969.8,523.24h0M971,521.38h0M972.2,520.2h0M973.4,509.96h0M974.6,514.42h0M975.8,509.3h0M977,515.35h0M978.2,509.42h0M979.4,513.17h0M980.6,509.75h0M981.8,507.67h0M983,508.5h0M984.2,501.71h0M985.4,504.95h0M986.6,503.58h0M987.8,497.91h0M989,503.74h0M990.2,485.42h0M991.4,497.83h0M992.6,498.03h0M993.8,492.62h0M995,495.53h0M996.2,478.69h0M997.4,490.36h0M998.6,490.23h0M999.8,485.19h0M1001,486.72h0M1002.2,486.63h0M1003.4,481.12h0M1004.6,484.3h0M1005.8,477.06h0M1007,480.62h0M1008.2,476.64h0M1009.4,464.26h0M1010.6,474.15h0M1011.8,471.86h0M1013,472.77h0M1014.2,472.45h0M1015.4,470.72h0M1016.6,468.67h0M1017.8,464.33h0M1019,464.2h0M1020.2,462.26h0M1021.4,455.53h0M1022.6,461.67h0M1023.8,460.04h0M1025,456.04h0M1026.2,458.51h0M1027.4,457.45h0M1028.6,454.79h0M1029.8,454.8h0M1031,452.52h0M1032.2,452.1h0M1033.4,448.87h0M1034.6,447.78h0M1035.8,449.06h0M1037,445.38h0M1038.2,445.47h0M1039.4,446.08h0M1040.6,445.95h0M1041.8,440.94h0M1043,442.13h0M1044.2,444.17h0M1045.4,442.04h0M1046.6,440.65h0M1047.8,439.72h0M1049,433.26h0M1050.2,430.43h0M1051.4,428.73h0M1052.6,429.11h0M1053.8,428.23h0M1055,428.13h0M1056.2,425.16h0M1057.4,423.2h0M1058.6,422.45h0M1059.8,418.82h0M1061,417.41h0M1062.2,411.43h0M1063.4,412.6h0M1064.6,404.64h0M1065.8,404.27h0M1067,396.12h0M1068.2,388.8h0M1069.4,384.79h0M1070.6,383.33h0M1071.8,383.78h0M1073,382.3h0M1074.2,376.73h0M1075.4,374.64h0M1076.6,375.78h0M1077.8,374.52h0M1079,371.82h0M1080.2,369.54h0M1081.4,370.88h0M1082.6,366.35h0M1083.8,368h0M1085,369.23h0M1086.2,372.9h0M1087.4,371.6h0M1088.6,374.07h0M1089.8,372.63h0M1091,372.51h0M1092.2,374.22h0M1093.4,380.56h0M1094.6,380.8h0M1095.8,380.23h0M1097,380.44h0M1098.2,385.71h0M1099.4,389.3h0M1100.6,390.23h0M1101.8,391.66h0M1103,396.5h0M1104.2,400.23h0M1105.4,397.74h0M1106.6,398.29h0M1107.8,401.78h0M1109,403.62h0M1110.2,406.39h0M1111.4,404.2h0M1112.6,408.84h0M1113.8,409.26h0M1115,408.56h0M1116.2,407.46h0M1117.4,413.19h0M1118.6,409.82h0M1119.8,413.92h0M1121,410.99h0M1122.2,411.76h0M1123.4,416.04h0M1124.6,413.86h0M1125.8,418.85h0M1127,416.69h0M1128.2,415.46h0M1129.4,416.37h0M1130.6,418.26h0M1131.8,420.43h0M1133,422.77h0M1134.2,418.08h0M1135.4,420.06h0M1136.6,419.26h0M1137.8,424.45h0M1139,419.41h0M1140.2,419.1h0M1141.4,419.41h0M1142.6,421.78h0M1143.8,425.27h0M1145,425.45h0M1146.2,424.79h0M1147.4,426.76h0M1148.6,426.58h0M1149.8,422.94h0M1151,422.24h0M1152.2,427.27h0M1153.4,426.25h0M1154.6,421.82h0M1155.8,425.99h0M1157,424.28h0M1158.2,424.38h0M1159.4,424.26h0M1160.6,423.42h0M1161.8,422.6h0M1163,424.68h0M1164.2,425.54h0M1165.4,429.92h0M1166.6,425.24h0M1167.8,431.38h0M1169,427.37h0M1170.2,429.24h0M1171.4,433.19h0M1172.6,434.21h0M1173.8,432.78h0M1175,431.4h0M1176.2,435.21h0M1177.4,435.65h0M1178.6,440.2h0M1179.8,436.55h0M1181,438.63h0M1182.2,443.13h0M1183.4,438.84h0M1184.6,442.69h0M1185.8,446.76h0M1187,448.03h0M1188.2,444.98h0M1189.4,446.56h0M1190.6,448.39h0M1191.8,455.54h0M1193,452.97h0M1194.2,457.8h0M1195.4,460.42h0M1196.6,458.67h0M1197.8,460.02h0M1199,465.79h0M1200.2,465.56h0M1201.4,465.35h0M1202.6,469.63h0M1203.8,469.32h0M1205,470.99h0M1206.2,471.58h0M1207.4,477.27h0M1208.6,480.03h0M1209.8,480.79h0M1211,484.23h0M1212.2,482.52h0M1213.4,485.56h0M1214.6,488.61h0M1215.8,492.41h0M1217,494.31h0M1218.2,494.24h0M1219.4,495.61h0M1220.6,497.9h0M1221.8,499.77h0M1223,502.63h0M1224.2,502.27h0M1225.4,505.49h0M1226.6,506.88h0M1227.8,508.58h0M1229,509.92h0M1230.2,510.97h0M1231.4,511.76h0M1232.6,513.05h0M1233.8,514.32h0M1235,516.13h0M1236.2,516.08h0M1237.4,517.23h0M1238.6,518.95h0M1239.8,519.08h0M1241,519.67h0M1242.2,520.39h0M1243.4,521.72h0M1244.6,522.13h0M1245.8,523.45h0M1247,523.91h0M1248.2,524.56h0M1249.4,524.39h0M1250.6,524.75h0M1251.8,525.24h0M1253,526.03h0M1254.2,526.6h0M1255.4,526.82h0M1256.6,527.05h0M1257.8,527.55h0M1259,528.04h0M1260.2,528.41h0M1261.4,528.79h0M1262.6,529.15h0M1263.8,529.35h0M1265,529.37h0M1266.2,530.01h0M1267.4,530.03h0M1268.6,530.42h0M1269.8,530.57h0M1271,530.96h0M1272.2,530.97h0M1273.4,531.21h0M1274.6,531.42h0M1275.8,531.6h0M1277,532.03h0M1278.2,532.11h0M1279.4,532.22h0M1280.6,532.41h0M1281.8,532.74h0M1283,532.77h0M1284.2,532.86h0M1285.4,533.15h0M1286.6,533.26h0M1287.8,533.48h0M1289,533.43h0M1290.2,533.64h0M1291.4,533.84h0M1292.6,533.97h0M1293.8,534.1h0M1295,534.09h0M1296.2,534.25h0M1297.4,534.35h0M1298.6,534.47h0M1299.8,534.68h0M1301,534.74h0M1302.2,534.88h0M1303.4,534.94h0M1304.6,535.08h0M1305.8,535.16h0" fill="none" stroke="#ffd200" stroke-width="6.6" stroke-linecap="square"/>
<path d="M1004,485.18V452M1026,458.79V420M1040,445.99V430" fill="none" stroke="#ffd200" stroke-width="2"/>
<path d="M1004,452h0M1026,420h0M1040,430h0" fill="none" stroke="#ffd200" stroke-width="7" stroke-linecap="round"/>
<path d="M881,536L882.2,536L883.4,536L884.6,536L885.8,536.01L887,536.01L888.2,536.01L889.4,536.01L890.6,536.02L891.8,536.02L893,536.02L894.2,536.02L895.4,536.03L896.6,536.03L897.8,536.03L899,536.04L900.2,536.04L901.4,536.04L902.6,536.04L903.8,536.05L905,536.05L906.2,536.05L907.4,536.05L908.6,536.06L909.8,536.06L911,536.06L912.2,536.06L913.4,536.06L914.6,536.07L915.8,536.07L917,536.07L918.2,536.07L919.4,536.07L920.6,536.07L921.8,536.07L923,536.07L924.2,536.07L925.4,536.07L926.6,536.07L927.8,536.07L929,536.07L930.2,536.07L931.4,536.07L932.6,536.07L933.8,536.06L935,536.06L936.2,536.06L937.4,536.05L938.6,536.05L939.8,536.04L941,536.04L942.2,536.02L943.4,536.01L944.6,536L945.8,535.99L947,535.97L948.2,535.96L949.4,535.94L950.6,535.92L951.8,535.89L953,535.86L954.2,535.8L955.4,535.68L956.6,535.38L957.8,535.03L959,534.8L960.2,534.38L961.4,534.01L962.6,533.56L963.8,533.17L965,532.68L966.2,532.04L967.4,531.26L968.6,530.82L969.8,529.86L971,529.04L972.2,528.62L973.4,527.61L974.6,517.33L975.8,523.58L977,523.31L978.2,523.7L979.4,522.83L980.6,511.53L981.8,519.71L983,489.32L984.2,517.95L985.4,499.33L986.6,515.24L987.8,515.05L989,502.37L990.2,509.71L991.4,498.5L992.6,506.66L993.8,506.24L995,491.61L996.2,492.15L997.4,484.43L998.6,488.53L999.8,497.97L1001,488.32L1002.2,484.57L1003.4,488.57L1004.6,468.29L1005.8,488.28L1007,459.3L1008.2,476.3L1009.4,485.91L1010.6,484.22L1011.8,473.19L1013,465.64L1014.2,478.44L1015.4,474.04L1016.6,463.8L1017.8,472.06L1019,454.03L1020.2,463.87L1021.4,467.36L1022.6,461.83L1023.8,456.28L1025,456.8L1026.2,449.89L1027.4,456.76L1028.6,441.92L1029.8,450.32L1031,443.11L1032.2,441.42L1033.4,443.3L1034.6,441.43L1035.8,429.38L1037,414.47L1038.2,423.87L1039.4,427.18L1040.6,428.52L1041.8,427.94L1043,392.49L1044.2,411.19L1045.4,403.14L1046.6,412.19L1047.8,404.34L1049,375.46L1050.2,390.38L1051.4,394.8L1052.6,399.19L1053.8,397.67L1055,391.02L1056.2,389.01L1057.4,383.32L1058.6,376.42L1059.8,375.57L1061,365.57L1062.2,365.19L1063.4,356.1L1064.6,350.32L1065.8,347.23L1067,346.74L1068.2,344.3L1069.4,334.46L1070.6,334.07L1071.8,330.54L1073,328.89L1074.2,321.38L1075.4,319.8L1076.6,315.35L1077.8,315.04L1079,308.1L1080.2,309.33L1081.4,302.06L1082.6,298.65L1083.8,298.89L1085,294.88L1086.2,289.86L1087.4,290.93L1088.6,285.35L1089.8,288.08L1091,285.93L1092.2,285.25L1093.4,283.35L1094.6,281.14L1095.8,281.56L1097,282.42L1098.2,287.08L1099.4,283.69L1100.6,290.5L1101.8,286.29L1103,288.61L1104.2,290.17L1105.4,295.7L1106.6,295L1107.8,296.5L1109,302.24L1110.2,300.64L1111.4,304.53L1112.6,307.23L1113.8,310.89L1115,313.3L1116.2,315.45L1117.4,316.81L1118.6,320.31L1119.8,323.24L1121,332.24L1122.2,336.84L1123.4,343.36L1124.6,344.63L1125.8,350.57L1127,356.22L1128.2,358.01L1129.4,357.81L1130.6,362.24L1131.8,366.72L1133,364.01L1134.2,364.75L1135.4,366.13L1136.6,369.17L1137.8,370.4L1139,366.19L1140.2,366.33L1141.4,367.01L1142.6,367.59L1143.8,368.89L1145,366.63L1146.2,367.76L1147.4,366.96L1148.6,372.11L1149.8,370.68L1151,366.83L1152.2,372.51L1153.4,367.19L1154.6,369.19L1155.8,373.26L1157,372.39L1158.2,372.33L1159.4,370.6L1160.6,368.95L1161.8,371.38L1163,367.43L1164.2,367.48L1165.4,368.11L1166.6,365.24L1167.8,366.96L1169,369.01L1170.2,368.25L1171.4,367.19L1172.6,368.46L1173.8,367.99L1175,366.71L1176.2,370.66L1177.4,370.6L1178.6,374.06L1179.8,376.41L1181,374.53L1182.2,376.59L1183.4,378.86L1184.6,377.96L1185.8,378.03L1187,382.65L1188.2,385.27L1189.4,386.35L1190.6,387.68L1191.8,390.41L1193,390.94L1194.2,392.33L1195.4,392.82L1196.6,393.73L1197.8,397.71L1199,396.46L1200.2,400.91L1201.4,405.82L1202.6,408.11L1203.8,410.42L1205,410.9L1206.2,414.98L1207.4,418.18L1208.6,422.27L1209.8,423.94L1211,428.64L1212.2,433.25L1213.4,431.47L1214.6,437.57L1215.8,441.48L1217,442.11L1218.2,445.83L1219.4,451.92L1220.6,448.81L1221.8,454.82L1223,455.09L1224.2,461.59L1225.4,465.06L1226.6,465.15L1227.8,465.39L1229,470.47L1230.2,472.76L1231.4,476.05L1232.6,477.44L1233.8,480.38L1235,483.5L1236.2,484.47L1237.4,486.29L1238.6,490.59L1239.8,490.09L1241,493.97L1242.2,495.15L1243.4,498.42L1244.6,498.57L1245.8,502.99L1247,503.2L1248.2,504.32L1249.4,506.62L1250.6,508.61L1251.8,509.5L1253,511.99L1254.2,513.61L1255.4,515.63L1256.6,516.52L1257.8,517.75L1259,518.95L1260.2,520.75L1261.4,521.99L1262.6,522.42L1263.8,522.93L1265,524.29L1266.2,524.58L1267.4,525.08L1268.6,525.63L1269.8,526.69L1271,527.23L1272.2,527.57L1273.4,527.91L1274.6,528.38L1275.8,528.58L1277,529.35L1278.2,529.36L1279.4,529.82L1280.6,530.21L1281.8,530.49L1283,530.6L1284.2,530.8L1285.4,531.14L1286.6,531.23L1287.8,531.71L1289,531.77L1290.2,532.15L1291.4,532.2L1292.6,532.47L1293.8,532.69L1295,533.01L1296.2,533.23L1297.4,533.46L1298.6,533.83L1299.8,533.96L1301,534.13L1302.2,534.28L1303.4,534.43L1304.6,534.54L1305.8,534.65L1307,534.73L1308.2,534.78L1309.4,534.9L1310.6,534.94L1311.8,534.93L1313,535.05L1314.2,535.11L1315.4,535.13L1316.6,535.13L1317.8,535.21L1319,535.24L1320.2,535.24L1321.4,535.28L1322.6,535.35L1323.8,535.37L1325,535.37L1326.2,535.39L1327.4,535.42L1328.6,535.46L1329.8,535.51L1331,535.51L1332.2,535.52L1333.4,535.56L1334.6,535.58L1335.8,535.57L1337,535.61L1338.2,535.62L1339.4,535.64L1340.6,535.66L1341.8,535.68L1343,535.69L1344.2,535.7L1345.4,535.69L1346.6,535.72L1347.8,535.72L1349,535.74L1350.2,535.74L1351.4,535.76L1352.6,535.76L1353.8,535.77L1355,535.77L1356.2,535.78L1357.4,535.8L1358.6,535.8L1359.8,535.81L1361,535.81L1362.2,535.82L1363.4,535.83L1364.6,535.84L1365.8,535.84L1367,535.84L1368.2,535.86L1369.4,535.86L1370.6,535.86L1371.8,535.87L1373,535.88L1374.2,535.88L1375.4,535.89L1376.6,535.89L1377.8,535.89L1379,535.9L1380.2,535.9L1381.4,535.9L1382.6,535.91L1383.8,535.91L1385,535.92L1386.2,535.92L1387.4,535.92L1388.6,535.92L1389.8,535.93L1391,535.93L1392.2,535.93L1393.4,535.94L1394.6,535.94L1395.8,535.94L1397,535.95L1398.2,535.94L1399.4,535.95L1400.6,535.95L1401.8,535.95L1403,535.95L1404.2,535.95L1405.4,535.96L1406.6,535.96L1407.8,535.96L1409,535.96L1410.2,535.96L1411.4,535.96L1412.6,535.97L1413.8,535.97L1415,535.97L1416.2,535.97L1417.4,535.97L1418.6,535.97L1419.8,535.97L1421,535.97L1422.2,535.97L1423.4,535.97L1424.6,535.97L1425.8,535.98L1427,535.97L1428.2,535.98L1429.4,535.98L1430.6,535.98L1431.8,535.98L1433,535.98L1434.2,535.98L1435.4,535.98L1436.6,535.98L1437.8,535.98L1439,535.98L1440.2,535.98L1441.4,535.98L1442.6,535.98L1443.8,535.98L1445,535.98L1446.2,535.98L1447.4,535.98L1448.6,535.98L1449.8,535.98L1451,535.98L1452.2,535.98L1453.4,535.98L1454.6,535.98L1455.8,535.98L1457,535.98L1458.2,535.98L1459.4,535.98L1460.6,535.98L1461.8,535.98L1463,535.98L1464.2,535.98L1465.4,535.98L1466.6,535.98L1467.8,535.98L1469,535.98L1470.2,535.98L1471.4,535.98L1472.6,535.98L1473.8,535.98L1475,535.98L1476.2,535.98L1477.4,535.98L1478.6,535.98L1479.8,535.98L1481,535.98L1482.2,535.98L1483.4,535.98L1484.6,535.98L1485.8,535.99L1487,535.99L1488.2,535.99L1489.4,535.99L1490.6,535.99L1491.8,536L1493,536" fill="none" stroke="#ff5000" stroke-width="1.6"/>
<path d="M957.8,535.03h0M959,534.8h0M960.2,534.38h0M961.4,534.01h0M962.6,533.56h0M963.8,533.17h0M965,532.68h0M966.2,532.04h0M967.4,531.26h0M968.6,530.82h0M969.8,529.86h0M971,529.04h0M972.2,528.62h0M973.4,527.61h0M974.6,517.33h0M975.8,523.58h0M977,523.31h0M978.2,523.7h0M979.4,522.83h0M980.6,511.53h0M981.8,519.71h0M983,489.32h0M984.2,517.95h0M985.4,499.33h0M986.6,515.24h0M987.8,515.05h0M989,502.37h0M990.2,509.71h0M991.4,498.5h0M992.6,506.66h0M993.8,506.24h0M995,491.61h0M996.2,492.15h0M997.4,484.43h0M998.6,488.53h0M999.8,497.97h0M1001,488.32h0M1002.2,484.57h0M1003.4,488.57h0M1004.6,468.29h0M1005.8,488.28h0M1007,459.3h0M1008.2,476.3h0M1009.4,485.91h0M1010.6,484.22h0M1011.8,473.19h0M1013,465.64h0M1014.2,478.44h0M1015.4,474.04h0M1016.6,463.8h0M1017.8,472.06h0M1019,454.03h0M1020.2,463.87h0M1021.4,467.36h0M1022.6,461.83h0M1023.8,456.28h0M1025,456.8h0M1026.2,449.89h0M1027.4,456.76h0M1028.6,441.92h0M1029.8,450.32h0M1031,443.11h0M1032.2,441.42h0M1033.4,443.3h0M1034.6,441.43h0M1035.8,429.38h0M1037,414.47h0M1038.2,423.87h0M1039.4,427.18h0M1040.6,428.52h0M1041.8,427.94h0M1043,392.49h0M1044.2,411.19h0M1045.4,403.14h0M1046.6,412.19h0M1047.8,404.34h0M1049,375.46h0M1050.2,390.38h0M1051.4,394.8h0M1052.6,399.19h0M1053.8,397.67h0M1055,391.02h0M1056.2,389.01h0M1057.4,383.32h0M1058.6,376.42h0M1059.8,375.57h0M1061,365.57h0M1062.2,365.19h0M1063.4,356.1h0M1064.6,350.32h0M1065.8,347.23h0M1067,346.74h0M1068.2,344.3h0M1069.4,334.46h0M1070.6,334.07h0M1071.8,330.54h0M1073,328.89h0M1074.2,321.38h0M1075.4,319.8h0M1076.6,315.35h0M1077.8,315.04h0M1079,308.1h0M1080.2,309.33h0M1081.4,302.06h0M1082.6,298.65h0M1083.8,298.89h0M1085,294.88h0M1086.2,289.86h0M1087.4,290.93h0M1088.6,285.35h0M1089.8,288.08h0M1091,285.93h0M1092.2,285.25h0M1093.4,283.35h0M1094.6,281.14h0M1095.8,281.56h0M1097,282.42h0M1098.2,287.08h0M1099.4,283.69h0M1100.6,290.5h0M1101.8,286.29h0M1103,288.61h0M1104.2,290.17h0M1105.4,295.7h0M1106.6,295h0M1107.8,296.5h0M1109,302.24h0M1110.2,300.64h0M1111.4,304.53h0M1112.6,307.23h0M1113.8,310.89h0M1115,313.3h0M1116.2,315.45h0M1117.4,316.81h0M1118.6,320.31h0M1119.8,323.24h0M1121,332.24h0M1122.2,336.84h0M1123.4,343.36h0M1124.6,344.63h0M1125.8,350.57h0M1127,356.22h0M1128.2,358.01h0M1129.4,357.81h0M1130.6,362.24h0M1131.8,366.72h0M1133,364.01h0M1134.2,364.75h0M1135.4,366.13h0M1136.6,369.17h0M1137.8,370.4h0M1139,366.19h0M1140.2,366.33h0M1141.4,367.01h0M1142.6,367.59h0M1143.8,368.89h0M1145,366.63h0M1146.2,367.76h0M1147.4,366.96h0M1148.6,372.11h0M1149.8,370.68h0M1151,366.83h0M1152.2,372.51h0M1153.4,367.19h0M1154.6,369.19h0M1155.8,373.26h0M1157,372.39h0M1158.2,372.33h0M1159.4,370.6h0M1160.6,368.95h0M1161.8,371.38h0M1163,367.43h0M1164.2,367.48h0M1165.4,368.11h0M1166.6,365.24h0M1167.8,366.96h0M1169,369.01h0M1170.2,368.25h0M1171.4,367.19h0M1172.6,368.46h0M1173.8,367.99h0M1175,366.71h0M1176.2,370.66h0M1177.4,370.6h0M1178.6,374.06h0M1179.8,376.41h0M1181,374.53h0M1182.2,376.59h0M1183.4,378.86h0M1184.6,377.96h0M1185.8,378.03h0M1187,382.65h0M1188.2,385.27h0M1189.4,386.35h0M1190.6,387.68h0M1191.8,390.41h0M1193,390.94h0M1194.2,392.33h0M1195.4,392.82h0M1196.6,393.73h0M1197.8,397.71h0M1199,396.46h0M1200.2,400.91h0M1201.4,405.82h0M1202.6,408.11h0M1203.8,410.42h0M1205,410.9h0M1206.2,414.98h0M1207.4,418.18h0M1208.6,422.27h0M1209.8,423.94h0M1211,428.64h0M1212.2,433.25h0M1213.4,431.47h0M1214.6,437.57h0M1215.8,441.48h0M1217,442.11h0M1218.2,445.83h0M1219.4,451.92h0M1220.6,448.81h0M1221.8,454.82h0M1223,455.09h0M1224.2,461.59h0M1225.4,465.06h0M1226.6,465.15h0M1227.8,465.39h0M1229,470.47h0M1230.2,472.76h0M1231.4,476.05h0M1232.6,477.44h0M1233.8,480.38h0M1235,483.5h0M1236.2,484.47h0M1237.4,486.29h0M1238.6,490.59h0M1239.8,490.09h0M1241,493.97h0M1242.2,495.15h0M1243.4,498.42h0M1244.6,498.57h0M1245.8,502.99h0M1247,503.2h0M1248.2,504.32h0M1249.4,506.62h0M1250.6,508.61h0M1251.8,509.5h0M1253,511.99h0M1254.2,513.61h0M1255.4,515.63h0M1256.6,516.52h0M1257.8,517.75h0M1259,518.95h0M1260.2,520.75h0M1261.4,521.99h0M1262.6,522.42h0M1263.8,522.93h0M1265,524.29h0M1266.2,524.58h0M1267.4,525.08h0M1268.6,525.63h0M1269.8,526.69h0M1271,527.23h0M1272.2,527.57h0M1273.4,527.91h0M1274.6,528.38h0M1275.8,528.58h0M1277,529.35h0M1278.2,529.36h0M1279.4,529.82h0M1280.6,530.21h0M1281.8,530.49h0M1283,530.6h0M1284.2,530.8h0M1285.4,531.14h0M1286.6,531.23h0M1287.8,531.71h0M1289,531.77h0M1290.2,532.15h0M1291.4,532.2h0M1292.6,532.47h0M1293.8,532.69h0M1295,533.01h0M1296.2,533.23h0M1297.4,533.46h0M1298.6,533.83h0M1299.8,533.96h0M1301,534.13h0M1302.2,534.28h0M1303.4,534.43h0M1304.6,534.54h0M1305.8,534.65h0M1307,534.73h0M1308.2,534.78h0M1309.4,534.9h0M1310.6,534.94h0M1311.8,534.93h0M1313,535.05h0M1314.2,535.11h0M1315.4,535.13h0M1316.6,535.13h0" fill="none" stroke="#ff5000" stroke-width="7.6" stroke-linecap="round"/>
<path d="M987.3,515.74V456.9M992.7,508.37V265.6M993.8,506.7V300M994.8,505.28V250M995.8,503.94V226.6M997,502.36V320M1059.4,374.91V335.5M998,501.07V470M1003,494.64V430M1010,485.18V455M1015,477.99V440M1022,466.93V425M1028,457.22V418M1035,444.96V405M1042,427.97V395M1050,406.92V380" fill="none" stroke="#ff5000" stroke-width="2"/>
<path d="M987.3,456.9h0M992.7,265.6h0M993.8,300h0M994.8,250h0M995.8,226.6h0M997,320h0M1059.4,335.5h0M998,470h0M1003,430h0M1010,455h0M1015,440h0M1022,425h0M1028,418h0M1035,405h0M1042,395h0M1050,380h0" fill="none" stroke="#ff5000" stroke-width="7" stroke-linecap="round"/>
<path d="M881,536L882.2,536L883.4,536L884.6,536.01L885.8,536.01L887,536.01L888.2,536.01L889.4,536.02L890.6,536.02L891.8,536.02L893,536.03L894.2,536.03L895.4,536.03L896.6,536.04L897.8,536.04L899,536.04L900.2,536.05L901.4,536.05L902.6,536.06L903.8,536.06L905,536.06L906.2,536.07L907.4,536.07L908.6,536.07L909.8,536.08L911,536.08L912.2,536.08L913.4,536.08L914.6,536.09L915.8,536.09L917,536.09L918.2,536.1L919.4,536.1L920.6,536.1L921.8,536.1L923,536.1L924.2,536.1L925.4,536.11L926.6,536.11L927.8,536.11L929,536.11L930.2,536.11L931.4,536.11L932.6,536.11L933.8,536.11L935,536.11L936.2,536.11L937.4,536.11L938.6,536.1L939.8,536.1L941,536.1L942.2,536.1L943.4,536.09L944.6,536.09L945.8,536.08L947,536.08L948.2,536.07L949.4,536.06L950.6,536.05L951.8,536.04L953,536.02L954.2,536.01L955.4,535.99L956.6,535.96L957.8,535.94L959,535.9L960.2,535.85L961.4,535.8L962.6,535.71L963.8,535.58L965,534.77L966.2,534.41L967.4,534.31L968.6,534.09L969.8,533.8L971,533.56L972.2,533.2L973.4,532.98L974.6,532.5L975.8,532.22L977,531.69L978.2,531.23L979.4,530.8L980.6,529.95L981.8,529.29L983,528.8L984.2,522.28L985.4,456.71L986.6,512.94L987.8,525.81L989,518.25L990.2,503.16L991.4,518.83L992.6,506.55L993.8,521.85L995,515.67L996.2,493.65L997.4,505.79L998.6,501.28L999.8,512.18L1001,504.06L1002.2,500.75L1003.4,505.93L1004.6,493.86L1005.8,495.94L1007,422.81L1008.2,490.81L1009.4,493.5L1010.6,497.31L1011.8,495.05L1013,475.86L1014.2,492.63L1015.4,491.09L1016.6,488.21L1017.8,478.61L1019,462.65L1020.2,471.3L1021.4,459.09L1022.6,478.55L1023.8,476.49L1025,453.14L1026.2,465.21L1027.4,449.85L1028.6,457.98L1029.8,457.99L1031,452.57L1032.2,451.53L1033.4,416.12L1034.6,432.46L1035.8,434.36L1037,427.62L1038.2,424.75L1039.4,426.4L1040.6,391.9L1041.8,406.5L1043,369.75L1044.2,402.47L1045.4,392.66L1046.6,397.41L1047.8,395.33L1049,352.32L1050.2,355.81L1051.4,370L1052.6,335.2L1053.8,335.14L1055,344.93L1056.2,327.18L1057.4,283.71L1058.6,307.48L1059.8,264.71L1061,301.23L1062.2,294.47L1063.4,287.49L1064.6,279.87L1065.8,271.76L1067,267.38L1068.2,258.31L1069.4,253.59L1070.6,245.72L1071.8,241.82L1073,236.15L1074.2,235.28L1075.4,229.2L1076.6,222.07L1077.8,223.11L1079,216.45L1080.2,214.81L1081.4,210.4L1082.6,207.62L1083.8,206.01L1085,195.68L1086.2,187.32L1087.4,184.01L1088.6,179.17L1089.8,180.06L1091,172.4L1092.2,175.32L1093.4,167L1094.6,170.06L1095.8,166.35L1097,161.15L1098.2,160.33L1099.4,156.47L1100.6,154.18L1101.8,152.8L1103,153.63L1104.2,158.32L1105.4,159.88L1106.6,161.69L1107.8,159.31L1109,163.77L1110.2,170.95L1111.4,168.72L1112.6,175.95L1113.8,176.1L1115,183.44L1116.2,180.36L1117.4,188.69L1118.6,189.26L1119.8,191.69L1121,194.53L1122.2,203.41L1123.4,204.79L1124.6,205.84L1125.8,210.53L1127,216.47L1128.2,214.75L1129.4,219.6L1130.6,219.32L1131.8,222.01L1133,228.16L1134.2,230.11L1135.4,229.09L1136.6,230.57L1137.8,232.8L1139,238.23L1140.2,239.54L1141.4,240.11L1142.6,241.64L1143.8,246.2L1145,248.8L1146.2,251.48L1147.4,252.06L1148.6,251.68L1149.8,252.86L1151,259.16L1152.2,259.09L1153.4,263.06L1154.6,260.71L1155.8,267.45L1157,266.3L1158.2,271.4L1159.4,273.35L1160.6,272.69L1161.8,271.27L1163,278.5L1164.2,277.1L1165.4,280.87L1166.6,278.15L1167.8,278.75L1169,283.99L1170.2,282.15L1171.4,282.05L1172.6,284.62L1173.8,287.28L1175,284.75L1176.2,289.31L1177.4,290.11L1178.6,291.87L1179.8,290.69L1181,295.88L1182.2,297.96L1183.4,299.74L1184.6,297.76L1185.8,301.79L1187,301.24L1188.2,305.18L1189.4,302.35L1190.6,309.15L1191.8,311.31L1193,310.06L1194.2,311.9L1195.4,313.81L1196.6,315.72L1197.8,314.36L1199,322.41L1200.2,319.65L1201.4,321.38L1202.6,322.81L1203.8,325.67L1205,331.19L1206.2,328.04L1207.4,330.35L1208.6,336.06L1209.8,334.69L1211,335.39L1212.2,340.93L1213.4,342.52L1214.6,343.85L1215.8,346.63L1217,344.44L1218.2,351.07L1219.4,351.9L1220.6,349.55L1221.8,352.13L1223,356.68L1224.2,358.96L1225.4,359.84L1226.6,361.17L1227.8,365.38L1229,366.09L1230.2,371.48L1231.4,375.73L1232.6,373.75L1233.8,379.16L1235,383.09L1236.2,382.35L1237.4,389.73L1238.6,393.68L1239.8,393.45L1241,396.88L1242.2,402.68L1243.4,403.71L1244.6,405.89L1245.8,412.37L1247,414.31L1248.2,414.48L1249.4,416.84L1250.6,420.44L1251.8,424.08L1253,430.56L1254.2,432.43L1255.4,436.12L1256.6,438.49L1257.8,441.72L1259,439.7L1260.2,445.8L1261.4,451.77L1262.6,454.72L1263.8,453.33L1265,457.27L1266.2,461.27L1267.4,462.29L1268.6,465.8L1269.8,465.78L1271,470.23L1272.2,473.05L1273.4,473.15L1274.6,476.22L1275.8,482.38L1277,483.81L1278.2,486.71L1279.4,487.65L1280.6,490.4L1281.8,492.65L1283,494.54L1284.2,493.59L1285.4,497.4L1286.6,498.05L1287.8,501L1289,501.59L1290.2,503.93L1291.4,506.4L1292.6,507.13L1293.8,507.75L1295,509.81L1296.2,511.12L1297.4,513.62L1298.6,513.97L1299.8,515.55L1301,517.55L1302.2,518.21L1303.4,520.26L1304.6,522.1L1305.8,522.98L1307,524.05L1308.2,525.44L1309.4,526.55L1310.6,527.19L1311.8,528L1313,528.73L1314.2,529.46L1315.4,530.1L1316.6,530.58L1317.8,531.07L1319,531.49L1320.2,532.09L1321.4,532.59L1322.6,532.92L1323.8,533.29L1325,533.64L1326.2,533.87L1327.4,534.23L1328.6,534.44L1329.8,534.67L1331,534.87L1332.2,535.16L1333.4,535.69L1334.6,535.81L1335.8,535.85L1337,535.87L1338.2,535.89L1339.4,535.91L1340.6,535.92L1341.8,535.93L1343,535.95L1344.2,535.96L1345.4,535.97L1346.6,535.98L1347.8,535.98L1349,535.99L1350.2,536L1351.4,536.01L1352.6,536.01L1353.8,536.02L1355,536.02L1356.2,536.03L1357.4,536.03L1358.6,536.04L1359.8,536.04L1361,536.04L1362.2,536.04L1363.4,536.05L1364.6,536.05L1365.8,536.05L1367,536.05L1368.2,536.06L1369.4,536.06L1370.6,536.06L1371.8,536.06L1373,536.06L1374.2,536.06L1375.4,536.07L1376.6,536.07L1377.8,536.07L1379,536.07L1380.2,536.07L1381.4,536.07L1382.6,536.07L1383.8,536.07L1385,536.07L1386.2,536.07L1387.4,536.07L1388.6,536.07L1389.8,536.07L1391,536.07L1392.2,536.07L1393.4,536.07L1394.6,536.07L1395.8,536.07L1397,536.07L1398.2,536.07L1399.4,536.07L1400.6,536.07L1401.8,536.07L1403,536.07L1404.2,536.07L1405.4,536.07L1406.6,536.07L1407.8,536.07L1409,536.07L1410.2,536.07L1411.4,536.07L1412.6,536.07L1413.8,536.07L1415,536.07L1416.2,536.07L1417.4,536.07L1418.6,536.06L1419.8,536.06L1421,536.06L1422.2,536.06L1423.4,536.06L1424.6,536.06L1425.8,536.06L1427,536.06L1428.2,536.06L1429.4,536.06L1430.6,536.06L1431.8,536.06L1433,536.05L1434.2,536.05L1435.4,536.05L1436.6,536.05L1437.8,536.05L1439,536.05L1440.2,536.05L1441.4,536.05L1442.6,536.05L1443.8,536.04L1445,536.04L1446.2,536.04L1447.4,536.04L1448.6,536.04L1449.8,536.04L1451,536.04L1452.2,536.04L1453.4,536.04L1454.6,536.03L1455.8,536.03L1457,536.03L1458.2,536.03L1459.4,536.03L1460.6,536.03L1461.8,536.03L1463,536.03L1464.2,536.02L1465.4,536.02L1466.6,536.02L1467.8,536.02L1469,536.02L1470.2,536.02L1471.4,536.02L1472.6,536.02L1473.8,536.01L1475,536.01L1476.2,536.01L1477.4,536.01L1478.6,536.01L1479.8,536.01L1481,536.01L1482.2,536.01L1483.4,536.01L1484.6,536L1485.8,536L1487,536L1488.2,536L1489.4,536L1490.6,536L1491.8,536L1493,536" fill="none" stroke="#e8043f" stroke-width="1.6"/>
<path d="M965,534.77h0M966.2,534.41h0M967.4,534.31h0M968.6,534.09h0M969.8,533.8h0M971,533.56h0M972.2,533.2h0M973.4,532.98h0M974.6,532.5h0M975.8,532.22h0M977,531.69h0M978.2,531.23h0M979.4,530.8h0M980.6,529.95h0M981.8,529.29h0M983,528.8h0M984.2,522.28h0M985.4,456.71h0M986.6,512.94h0M987.8,525.81h0M989,518.25h0M990.2,503.16h0M991.4,518.83h0M992.6,506.55h0M993.8,521.85h0M995,515.67h0M996.2,493.65h0M997.4,505.79h0M998.6,501.28h0M999.8,512.18h0M1001,504.06h0M1002.2,500.75h0M1003.4,505.93h0M1004.6,493.86h0M1005.8,495.94h0M1007,422.81h0M1008.2,490.81h0M1009.4,493.5h0M1010.6,497.31h0M1011.8,495.05h0M1013,475.86h0M1014.2,492.63h0M1015.4,491.09h0M1016.6,488.21h0M1017.8,478.61h0M1019,462.65h0M1020.2,471.3h0M1021.4,459.09h0M1022.6,478.55h0M1023.8,476.49h0M1025,453.14h0M1026.2,465.21h0M1027.4,449.85h0M1028.6,457.98h0M1029.8,457.99h0M1031,452.57h0M1032.2,451.53h0M1033.4,416.12h0M1034.6,432.46h0M1035.8,434.36h0M1037,427.62h0M1038.2,424.75h0M1039.4,426.4h0M1040.6,391.9h0M1041.8,406.5h0M1043,369.75h0M1044.2,402.47h0M1045.4,392.66h0M1046.6,397.41h0M1047.8,395.33h0M1049,352.32h0M1050.2,355.81h0M1051.4,370h0M1052.6,335.2h0M1053.8,335.14h0M1055,344.93h0M1056.2,327.18h0M1057.4,283.71h0M1058.6,307.48h0M1059.8,264.71h0M1061,301.23h0M1062.2,294.47h0M1063.4,287.49h0M1064.6,279.87h0M1065.8,271.76h0M1067,267.38h0M1068.2,258.31h0M1069.4,253.59h0M1070.6,245.72h0M1071.8,241.82h0M1073,236.15h0M1074.2,235.28h0M1075.4,229.2h0M1076.6,222.07h0M1077.8,223.11h0M1079,216.45h0M1080.2,214.81h0M1081.4,210.4h0M1082.6,207.62h0M1083.8,206.01h0M1085,195.68h0M1086.2,187.32h0M1087.4,184.01h0M1088.6,179.17h0M1089.8,180.06h0M1091,172.4h0M1092.2,175.32h0M1093.4,167h0M1094.6,170.06h0M1095.8,166.35h0M1097,161.15h0M1098.2,160.33h0M1099.4,156.47h0M1100.6,154.18h0M1101.8,152.8h0M1103,153.63h0M1104.2,158.32h0M1105.4,159.88h0M1106.6,161.69h0M1107.8,159.31h0M1109,163.77h0M1110.2,170.95h0M1111.4,168.72h0M1112.6,175.95h0M1113.8,176.1h0M1115,183.44h0M1116.2,180.36h0M1117.4,188.69h0M1118.6,189.26h0M1119.8,191.69h0M1121,194.53h0M1122.2,203.41h0M1123.4,204.79h0M1124.6,205.84h0M1125.8,210.53h0M1127,216.47h0M1128.2,214.75h0M1129.4,219.6h0M1130.6,219.32h0M1131.8,222.01h0M1133,228.16h0M1134.2,230.11h0M1135.4,229.09h0M1136.6,230.57h0M1137.8,232.8h0M1139,238.23h0M1140.2,239.54h0M1141.4,240.11h0M1142.6,241.64h0M1143.8,246.2h0M1145,248.8h0M1146.2,251.48h0M1147.4,252.06h0M1148.6,251.68h0M1149.8,252.86h0M1151,259.16h0M1152.2,259.09h0M1153.4,263.06h0M1154.6,260.71h0M1155.8,267.45h0M1157,266.3h0M1158.2,271.4h0M1159.4,273.35h0M1160.6,272.69h0M1161.8,271.27h0M1163,278.5h0M1164.2,277.1h0M1165.4,280.87h0M1166.6,278.15h0M1167.8,278.75h0M1169,283.99h0M1170.2,282.15h0M1171.4,282.05h0M1172.6,284.62h0M1173.8,287.28h0M1175,284.75h0M1176.2,289.31h0M1177.4,290.11h0M1178.6,291.87h0M1179.8,290.69h0M1181,295.88h0M1182.2,297.96h0M1183.4,299.74h0M1184.6,297.76h0M1185.8,301.79h0M1187,301.24h0M1188.2,305.18h0M1189.4,302.35h0M1190.6,309.15h0M1191.8,311.31h0M1193,310.06h0M1194.2,311.9h0M1195.4,313.81h0M1196.6,315.72h0M1197.8,314.36h0M1199,322.41h0M1200.2,319.65h0M1201.4,321.38h0M1202.6,322.81h0M1203.8,325.67h0M1205,331.19h0M1206.2,328.04h0M1207.4,330.35h0M1208.6,336.06h0M1209.8,334.69h0M1211,335.39h0M1212.2,340.93h0M1213.4,342.52h0M1214.6,343.85h0M1215.8,346.63h0M1217,344.44h0M1218.2,351.07h0M1219.4,351.9h0M1220.6,349.55h0M1221.8,352.13h0M1223,356.68h0M1224.2,358.96h0M1225.4,359.84h0M1226.6,361.17h0M1227.8,365.38h0M1229,366.09h0M1230.2,371.48h0M1231.4,375.73h0M1232.6,373.75h0M1233.8,379.16h0M1235,383.09h0M1236.2,382.35h0M1237.4,389.73h0M1238.6,393.68h0M1239.8,393.45h0M1241,396.88h0M1242.2,402.68h0M1243.4,403.71h0M1244.6,405.89h0M1245.8,412.37h0M1247,414.31h0M1248.2,414.48h0M1249.4,416.84h0M1250.6,420.44h0M1251.8,424.08h0M1253,430.56h0M1254.2,432.43h0M1255.4,436.12h0M1256.6,438.49h0M1257.8,441.72h0M1259,439.7h0M1260.2,445.8h0M1261.4,451.77h0M1262.6,454.72h0M1263.8,453.33h0M1265,457.27h0M1266.2,461.27h0M1267.4,462.29h0M1268.6,465.8h0M1269.8,465.78h0M1271,470.23h0M1272.2,473.05h0M1273.4,473.15h0M1274.6,476.22h0M1275.8,482.38h0M1277,483.81h0M1278.2,486.71h0M1279.4,487.65h0M1280.6,490.4h0M1281.8,492.65h0M1283,494.54h0M1284.2,493.59h0M1285.4,497.4h0M1286.6,498.05h0M1287.8,501h0M1289,501.59h0M1290.2,503.93h0M1291.4,506.4h0M1292.6,507.13h0M1293.8,507.75h0M1295,509.81h0M1296.2,511.12h0M1297.4,513.62h0M1298.6,513.97h0M1299.8,515.55h0M1301,517.55h0M1302.2,518.21h0M1303.4,520.26h0M1304.6,522.1h0M1305.8,522.98h0M1307,524.05h0M1308.2,525.44h0M1309.4,526.55h0M1310.6,527.19h0M1311.8,528h0M1313,528.73h0M1314.2,529.46h0M1315.4,530.1h0M1316.6,530.58h0M1317.8,531.07h0M1319,531.49h0M1320.2,532.09h0M1321.4,532.59h0M1322.6,532.92h0M1323.8,533.29h0M1325,533.64h0M1326.2,533.87h0M1327.4,534.23h0M1328.6,534.44h0M1329.8,534.67h0M1331,534.87h0M1332.2,535.16h0" fill="none" stroke="#e8043f" stroke-width="7.8" stroke-linecap="round"/>
<path d="M974,532.72V304.4M1000.6,514.22V387.7M1008,503.08V418.3M1009.3,501.07V300.4M1012,497.17V388.8M1016.3,491.26V241.9M1017.1,490.05V295.7M1023.9,476.43V398.8M1030.3,459.06V389.9M1037.4,434.52V337.7M1038.3,431.21V372M1045.8,404.62V370M1047.6,396.87V351M1048.1,394.4V276.7M1056.3,339.16V137.7M1004,509.35V440M1020,484.98V430M1027,468.52V445M1034,446.79V420M1042,418.06V405M1085.6,193.09V164.2M1095.6,165.65V140M1102.7,154.55V145.1M1127,213.84V182.7" fill="none" stroke="#e8043f" stroke-width="2"/>
<path d="M974,304.4h0M1000.6,387.7h0M1008,418.3h0M1009.3,300.4h0M1012,388.8h0M1016.3,241.9h0M1017.1,295.7h0M1023.9,398.8h0M1030.3,389.9h0M1037.4,337.7h0M1038.3,372h0M1045.8,370h0M1047.6,351h0M1048.1,276.7h0M1056.3,137.7h0M1004,440h0M1020,430h0M1027,445h0M1034,420h0M1042,405h0M1085.6,164.2h0M1095.6,140h0M1102.7,145.1h0M1127,182.7h0" fill="none" stroke="#e8043f" stroke-width="7" stroke-linecap="round"/>
<path d="M881,538.5L887.45,538.51L896.42,538.55L907.13,538.59L918.82,538.62L930.73,538.65L942.07,538.64L952.08,538.6L960,538.5L965.92,538.39L970.62,538.28L974.34,538.15L977.33,537.99L979.83,537.76L982.08,537.45L984.32,537.04L986.8,536.5L989.34,535.84L991.63,535.1L993.72,534.26L995.66,533.33L997.5,532.31L999.29,531.2L1001.07,530L1002.9,528.7L1004.74,527.27L1006.51,525.69L1008.24,524L1009.94,522.23L1011.63,520.41L1013.3,518.58L1014.99,516.76L1016.7,515L1018.41,513.27L1020.1,511.53L1021.77,509.79L1023.46,508.05L1025.16,506.31L1026.89,504.57L1028.66,502.83L1030.5,501.1L1032.4,499.38L1034.37,497.66L1036.37,495.95L1038.41,494.24L1040.47,492.54L1042.53,490.83L1044.58,489.12L1046.6,487.4L1048.62,485.66L1050.66,483.9L1052.7,482.13L1054.74,480.36L1056.77,478.61L1058.76,476.89L1060.71,475.22L1062.6,473.6L1064.47,472.01L1066.33,470.41L1068.16,468.84L1069.96,467.31L1071.7,465.84L1073.37,464.47L1074.94,463.22L1076.4,462.1L1077.73,461.13L1078.95,460.3L1080.06,459.57L1081.11,458.94L1082.1,458.39L1083.06,457.89L1084.02,457.44L1085,457L1085.97,456.6L1086.91,456.25L1087.82,455.95L1088.71,455.7L1089.59,455.5L1090.48,455.35L1091.38,455.25L1092.3,455.2L1093.23,455.19L1094.14,455.23L1095.06,455.32L1095.98,455.46L1096.93,455.64L1097.9,455.88L1098.92,456.16L1100,456.5L1101.1,456.88L1102.19,457.29L1103.31,457.75L1104.47,458.26L1105.69,458.83L1107.01,459.47L1108.44,460.19L1110,461L1111.74,461.96L1113.67,463.08L1115.73,464.32L1117.86,465.61L1120.03,466.9L1122.17,468.13L1124.25,469.25L1126.2,470.2L1128.05,470.98L1129.85,471.64L1131.62,472.2L1133.34,472.7L1135.04,473.15L1136.71,473.59L1138.36,474.03L1140,474.5L1141.59,474.95L1143.1,475.32L1144.57,475.66L1146.03,476L1147.5,476.38L1149.02,476.83L1150.61,477.39L1152.3,478.1L1154.08,478.93L1155.92,479.83L1157.82,480.82L1159.78,481.89L1161.77,483.06L1163.81,484.33L1165.89,485.71L1168,487.2L1170.16,488.85L1172.39,490.66L1174.67,492.6L1176.99,494.64L1179.32,496.72L1181.66,498.82L1183.99,500.89L1186.3,502.9L1188.57,504.9L1190.81,506.95L1193.05,509.02L1195.29,511.08L1197.55,513.1L1199.84,515.05L1202.19,516.89L1204.6,518.6L1207.02,520.19L1209.4,521.69L1211.79,523.11L1214.23,524.45L1216.78,525.71L1219.48,526.88L1222.37,527.98L1225.5,529L1228.87,529.93L1232.43,530.76L1236.17,531.5L1240.06,532.17L1244.1,532.77L1248.26,533.32L1252.53,533.83L1256.9,534.3L1261.39,534.72L1266.02,535.08L1270.78,535.37L1275.66,535.62L1280.64,535.83L1285.7,536.03L1290.83,536.21L1296,536.4L1300.51,536.58L1304.08,536.73L1307.31,536.85L1310.82,536.96L1315.23,537.07L1321.15,537.17L1329.2,537.28L1340,537.4L1355.04,537.54L1374.38,537.69L1396.46,537.85L1419.75,538.01L1442.7,538.16L1463.75,538.3L1481.37,538.41L1494,538.5" fill="none" stroke="#505050" stroke-width="5.5" stroke-linejoin="round"/>
<path d="M881,538.5L887.92,538.52L897.59,538.58L909.16,538.65L921.75,538.72L934.5,538.76L946.53,538.75L956.99,538.67L965,538.5L970.57,538.28L974.52,538.05L977.23,537.77L979.06,537.44L980.39,537.02L981.57,536.48L982.99,535.82L985,535L987.48,533.98L990.01,532.78L992.55,531.42L995.06,529.97L997.5,528.45L999.84,526.93L1002.01,525.43L1004,524L1005.75,522.66L1007.29,521.38L1008.67,520.11L1009.94,518.84L1011.15,517.52L1012.37,516.13L1013.63,514.63L1015,513L1016.47,511.21L1017.98,509.28L1019.51,507.25L1021.06,505.15L1022.6,503L1024.12,500.84L1025.59,498.7L1027,496.6L1028.32,494.61L1029.56,492.73L1030.74,490.89L1031.91,489.03L1033.08,487.07L1034.3,484.96L1035.6,482.62L1037,480L1038.55,476.98L1040.25,473.57L1042.03,469.9L1043.84,466.09L1045.65,462.27L1047.39,458.56L1049.03,455.1L1050.5,452L1051.79,449.29L1052.95,446.85L1054.01,444.61L1055,442.51L1055.96,440.47L1056.92,438.42L1057.92,436.29L1059,434L1060.14,431.56L1061.32,429.03L1062.51,426.44L1063.72,423.83L1064.93,421.22L1066.14,418.66L1067.33,416.18L1068.5,413.8L1069.62,411.53L1070.7,409.32L1071.76,407.17L1072.81,405.08L1073.89,403.02L1075.02,400.99L1076.21,398.99L1077.5,397L1078.9,394.98L1080.38,392.91L1081.94,390.84L1083.54,388.81L1085.17,386.87L1086.81,385.06L1088.42,383.42L1090,382L1091.56,380.78L1093.15,379.7L1094.74,378.77L1096.32,377.99L1097.89,377.34L1099.41,376.83L1100.89,376.45L1102.3,376.2L1103.63,376.09L1104.88,376.14L1106.08,376.33L1107.24,376.64L1108.4,377.08L1109.56,377.63L1110.75,378.27L1112,379L1113.32,379.85L1114.68,380.86L1116.08,381.98L1117.49,383.21L1118.89,384.5L1120.26,385.83L1121.57,387.17L1122.8,388.5L1123.94,389.85L1125.01,391.27L1126.03,392.73L1127.01,394.22L1127.98,395.71L1128.95,397.18L1129.95,398.62L1131,400L1132.07,401.33L1133.15,402.63L1134.24,403.9L1135.34,405.16L1136.46,406.39L1137.6,407.61L1138.78,408.81L1140,410L1141.23,411.16L1142.45,412.29L1143.69,413.39L1144.97,414.48L1146.3,415.57L1147.7,416.68L1149.19,417.82L1150.8,419L1152.54,420.21L1154.42,421.43L1156.39,422.66L1158.44,423.92L1160.52,425.2L1162.61,426.53L1164.68,427.89L1166.7,429.3L1168.73,430.81L1170.84,432.44L1172.98,434.13L1175.09,435.85L1177.15,437.54L1179.1,439.16L1180.9,440.66L1182.5,442L1183.83,443.05L1184.91,443.81L1185.8,444.4L1186.61,444.94L1187.4,445.56L1188.25,446.38L1189.26,447.52L1190.5,449.1L1191.96,451.14L1193.56,453.54L1195.27,456.21L1197.07,459.11L1198.93,462.15L1200.82,465.27L1202.72,468.41L1204.6,471.5L1206.47,474.63L1208.35,477.91L1210.26,481.28L1212.19,484.69L1214.15,488.1L1216.15,491.43L1218.2,494.65L1220.3,497.7L1222.41,500.64L1224.51,503.54L1226.63,506.39L1228.8,509.14L1231.05,511.76L1233.42,514.24L1235.92,516.53L1238.6,518.6L1241.4,520.43L1244.27,522.03L1247.24,523.44L1250.34,524.69L1253.6,525.84L1257.06,526.91L1260.75,527.95L1264.7,529L1269,530.04L1273.67,531.03L1278.62,531.97L1283.73,532.85L1288.92,533.66L1294.1,534.39L1299.16,535.04L1304,535.6L1307.85,536.04L1310.47,536.36L1312.56,536.58L1314.83,536.73L1318,536.84L1322.78,536.94L1329.88,537.05L1340,537.2L1354.66,537.39L1373.81,537.58L1395.88,537.77L1419.25,537.95L1442.34,538.12L1463.56,538.27L1481.31,538.4L1494,538.5" fill="none" stroke="#d4a82c" stroke-width="5.5" stroke-linejoin="round"/>
<path d="M881,538.5L887.53,538.51L896.7,538.52L907.65,538.54L919.56,538.56L931.59,538.57L942.9,538.56L952.65,538.54L960,538.5L964.94,538.47L968.25,538.46L970.31,538.46L971.5,538.43L972.19,538.36L972.75,538.21L973.56,537.97L975,537.6L976.91,537.09L978.87,536.45L980.84,535.71L982.81,534.9L984.74,534.05L986.6,533.18L988.36,532.32L990,531.5L991.49,530.73L992.86,530L994.14,529.27L995.34,528.52L996.51,527.75L997.65,526.92L998.81,526.01L1000,525L1001.21,523.9L1002.42,522.73L1003.62,521.49L1004.81,520.19L1006,518.83L1007.17,517.43L1008.34,515.98L1009.5,514.5L1010.65,513.01L1011.79,511.51L1012.91,509.99L1014.03,508.41L1015.15,506.74L1016.26,504.97L1017.38,503.07L1018.5,501L1019.62,498.77L1020.74,496.42L1021.85,493.94L1022.97,491.34L1024.09,488.64L1025.21,485.85L1026.35,482.96L1027.5,480L1028.65,476.92L1029.8,473.7L1030.96,470.36L1032.12,466.94L1033.31,463.46L1034.51,459.96L1035.74,456.46L1037,453L1038.31,449.54L1039.68,446.05L1041.08,442.53L1042.49,439L1043.91,435.47L1045.31,431.95L1046.68,428.46L1048,425L1049.29,421.6L1050.57,418.25L1051.83,414.93L1053.08,411.62L1054.28,408.3L1055.44,404.94L1056.55,401.51L1057.6,398L1058.56,394.38L1059.42,390.66L1060.21,386.88L1060.97,383.06L1061.72,379.24L1062.49,375.43L1063.3,371.67L1064.2,368L1065.16,364.38L1066.17,360.77L1067.2,357.18L1068.26,353.62L1069.35,350.12L1070.45,346.67L1071.57,343.29L1072.7,340L1073.87,336.73L1075.11,333.46L1076.39,330.22L1077.67,327.06L1078.94,324.02L1080.15,321.13L1081.28,318.45L1082.3,316L1083.2,313.83L1084,311.93L1084.72,310.23L1085.39,308.68L1086.03,307.24L1086.67,305.84L1087.31,304.45L1088,303L1088.7,301.51L1089.4,300.04L1090.09,298.59L1090.78,297.18L1091.48,295.82L1092.2,294.51L1092.93,293.27L1093.7,292.1L1094.51,290.99L1095.37,289.92L1096.25,288.91L1097.15,287.96L1098.04,287.08L1098.91,286.29L1099.73,285.59L1100.5,285L1101.2,284.53L1101.84,284.18L1102.45,283.93L1103.02,283.76L1103.59,283.65L1104.17,283.61L1104.77,283.59L1105.4,283.6L1106.06,283.63L1106.73,283.69L1107.41,283.8L1108.1,283.95L1108.8,284.16L1109.52,284.43L1110.25,284.78L1111,285.2L1111.78,285.7L1112.6,286.28L1113.44,286.93L1114.29,287.64L1115.13,288.41L1115.96,289.23L1116.75,290.09L1117.5,291L1118.16,291.88L1118.74,292.72L1119.27,293.56L1119.78,294.47L1120.32,295.52L1120.93,296.75L1121.65,298.22L1122.5,300L1123.51,302.14L1124.63,304.62L1125.85,307.36L1127.14,310.28L1128.47,313.3L1129.83,316.35L1131.18,319.34L1132.5,322.2L1133.83,325.03L1135.19,327.95L1136.58,330.91L1137.98,333.84L1139.37,336.71L1140.73,339.44L1142.05,341.99L1143.3,344.3L1144.48,346.36L1145.59,348.22L1146.66,349.91L1147.7,351.47L1148.73,352.92L1149.78,354.31L1150.86,355.65L1152,357L1153.2,358.33L1154.45,359.59L1155.73,360.8L1157.02,361.95L1158.32,363.04L1159.59,364.08L1160.82,365.07L1162,366L1163.11,366.84L1164.15,367.56L1165.15,368.2L1166.13,368.8L1167.12,369.39L1168.12,370.02L1169.18,370.71L1170.3,371.5L1171.49,372.38L1172.73,373.31L1174.02,374.28L1175.32,375.3L1176.65,376.35L1177.98,377.44L1179.3,378.56L1180.6,379.7L1181.89,380.87L1183.17,382.08L1184.46,383.32L1185.75,384.59L1187.04,385.89L1188.33,387.23L1189.61,388.6L1190.9,390L1192.21,391.44L1193.55,392.9L1194.89,394.4L1196.24,395.94L1197.56,397.5L1198.84,399.1L1200.06,400.74L1201.2,402.4L1202.23,404.03L1203.13,405.58L1203.96,407.13L1204.76,408.73L1205.56,410.45L1206.43,412.34L1207.39,414.47L1208.5,416.9L1209.73,419.63L1211.04,422.59L1212.42,425.77L1213.88,429.14L1215.39,432.68L1216.97,436.35L1218.61,440.13L1220.3,444L1222.08,448.09L1223.95,452.48L1225.9,457.08L1227.91,461.76L1229.94,466.44L1231.98,471.01L1234.01,475.36L1236,479.4L1237.93,483.16L1239.8,486.76L1241.66,490.21L1243.52,493.52L1245.43,496.69L1247.41,499.74L1249.49,502.67L1251.7,505.5L1253.96,508.21L1256.19,510.81L1258.47,513.28L1260.84,515.62L1263.38,517.85L1266.15,519.96L1269.2,521.94L1272.6,523.8L1276.4,525.54L1280.55,527.15L1284.99,528.64L1289.66,530.01L1294.48,531.26L1299.39,532.39L1304.32,533.4L1309.2,534.3L1313.39,535.04L1316.69,535.6L1319.66,536.01L1322.89,536.33L1326.96,536.56L1332.45,536.77L1339.93,536.97L1350,537.2L1364.05,537.45L1382.12,537.67L1402.77,537.86L1424.55,538.03L1446.01,538.18L1465.71,538.3L1482.19,538.41L1494,538.5" fill="none" stroke="#cd6434" stroke-width="5.5" stroke-linejoin="round"/>
<path d="M881,538.5L887.53,538.51L896.7,538.52L907.65,538.54L919.56,538.56L931.59,538.57L942.9,538.56L952.65,538.54L960,538.5L964.94,538.47L968.25,538.46L970.31,538.46L971.5,538.43L972.19,538.36L972.75,538.21L973.56,537.97L975,537.6L976.91,537.09L978.87,536.46L980.84,535.73L982.81,534.93L984.74,534.08L986.6,533.21L988.36,532.34L990,531.5L991.5,530.69L992.88,529.9L994.16,529.09L995.38,528.27L996.54,527.42L997.69,526.52L998.83,525.55L1000,524.5L1001.17,523.38L1002.32,522.2L1003.45,520.97L1004.56,519.69L1005.67,518.35L1006.77,516.95L1007.88,515.5L1009,514L1010.12,512.46L1011.25,510.89L1012.38,509.27L1013.5,507.59L1014.62,505.84L1015.75,504L1016.88,502.06L1018,500L1019.12,497.84L1020.24,495.61L1021.35,493.29L1022.47,490.88L1023.59,488.35L1024.71,485.7L1025.85,482.92L1027,480L1028.16,476.9L1029.33,473.63L1030.5,470.22L1031.69,466.69L1032.88,463.07L1034.08,459.4L1035.29,455.7L1036.5,452L1037.73,448.27L1038.97,444.46L1040.22,440.59L1041.48,436.69L1042.74,432.76L1044,428.82L1045.26,424.9L1046.5,421L1047.75,417.1L1049.02,413.18L1050.3,409.24L1051.57,405.31L1052.82,401.41L1054.04,397.54L1055.2,393.73L1056.3,390L1057.33,386.36L1058.3,382.79L1059.23,379.28L1060.12,375.81L1060.98,372.37L1061.82,368.93L1062.66,365.48L1063.5,362L1064.34,358.5L1065.17,355.01L1065.98,351.53L1066.78,348.04L1067.56,344.54L1068.33,341.04L1069.08,337.53L1069.8,334L1070.49,330.45L1071.15,326.89L1071.78,323.31L1072.4,319.73L1073.01,316.14L1073.62,312.55L1074.25,308.97L1074.9,305.4L1075.57,301.84L1076.24,298.29L1076.92,294.74L1077.61,291.19L1078.31,287.65L1079,284.1L1079.7,280.55L1080.4,277L1081.1,273.44L1081.79,269.88L1082.48,266.32L1083.18,262.76L1083.89,259.19L1084.61,255.63L1085.34,252.06L1086.1,248.5L1086.88,244.98L1087.67,241.53L1088.48,238.1L1089.31,234.66L1090.14,231.16L1090.99,227.58L1091.84,223.87L1092.7,220L1093.56,215.85L1094.43,211.41L1095.3,206.8L1096.18,202.12L1097.08,197.5L1097.99,193.02L1098.93,188.82L1099.9,185L1100.9,181.49L1101.92,178.14L1102.96,174.99L1104.03,172.03L1105.1,169.29L1106.2,166.78L1107.3,164.51L1108.4,162.5L1109.51,160.72L1110.61,159.15L1111.73,157.79L1112.86,156.68L1114,155.83L1115.17,155.25L1116.37,154.97L1117.6,155L1118.91,155.4L1120.3,156.17L1121.74,157.26L1123.2,158.62L1124.63,160.19L1126,161.91L1127.27,163.73L1128.4,165.6L1129.36,167.55L1130.17,169.64L1130.88,171.87L1131.53,174.24L1132.16,176.75L1132.82,179.37L1133.55,182.13L1134.4,185L1135.36,188.05L1136.39,191.31L1137.48,194.72L1138.61,198.24L1139.75,201.83L1140.89,205.44L1142.01,209.01L1143.1,212.5L1144.14,215.95L1145.16,219.41L1146.16,222.88L1147.16,226.34L1148.17,229.8L1149.2,233.23L1150.27,236.63L1151.4,240L1152.6,243.4L1153.86,246.86L1155.16,250.34L1156.49,253.78L1157.82,257.12L1159.13,260.31L1160.4,263.29L1161.6,266L1162.75,268.44L1163.86,270.66L1164.94,272.69L1166,274.56L1167.03,276.3L1168.04,277.93L1169.03,279.49L1170,281L1170.94,282.39L1171.82,283.6L1172.68,284.68L1173.53,285.69L1174.36,286.67L1175.21,287.68L1176.09,288.77L1177,290L1177.95,291.35L1178.91,292.77L1179.88,294.24L1180.88,295.75L1181.88,297.29L1182.91,298.86L1183.95,300.43L1185,302L1186.02,303.5L1186.98,304.9L1187.93,306.27L1188.91,307.69L1189.96,309.2L1191.13,310.88L1192.46,312.79L1194,315L1195.83,317.6L1197.93,320.59L1200.23,323.83L1202.63,327.23L1205.05,330.66L1207.39,334.01L1209.57,337.16L1211.5,340L1213.18,342.49L1214.69,344.74L1216.08,346.81L1217.37,348.79L1218.61,350.76L1219.84,352.78L1221.09,354.93L1222.4,357.3L1223.78,359.9L1225.18,362.66L1226.59,365.54L1227.99,368.48L1229.37,371.45L1230.71,374.39L1231.99,377.25L1233.2,380L1234.32,382.63L1235.36,385.19L1236.34,387.7L1237.27,390.17L1238.19,392.62L1239.11,395.06L1240.04,397.52L1241,400L1241.99,402.5L1242.99,405L1244,407.5L1245.01,410L1246.01,412.5L1247.02,415L1248.01,417.5L1249,420L1249.98,422.52L1250.97,425.08L1251.96,427.65L1252.94,430.21L1253.91,432.75L1254.86,435.24L1255.79,437.66L1256.7,440L1257.58,442.25L1258.42,444.43L1259.25,446.54L1260.06,448.61L1260.87,450.64L1261.67,452.64L1262.48,454.62L1263.3,456.6L1264.12,458.54L1264.93,460.43L1265.73,462.27L1266.54,464.1L1267.37,465.93L1268.21,467.78L1269.09,469.66L1270,471.6L1270.96,473.62L1271.96,475.71L1273,477.85L1274.05,480.01L1275.12,482.15L1276.19,484.24L1277.25,486.27L1278.3,488.2L1279.33,490.03L1280.34,491.79L1281.34,493.5L1282.34,495.16L1283.36,496.77L1284.41,498.36L1285.48,499.94L1286.6,501.5L1287.76,503.05L1288.94,504.58L1290.16,506.08L1291.39,507.56L1292.66,509.01L1293.95,510.43L1295.26,511.83L1296.6,513.2L1297.97,514.57L1299.39,515.94L1300.83,517.29L1302.29,518.62L1303.77,519.89L1305.26,521.09L1306.73,522.2L1308.2,523.2L1309.67,524.07L1311.16,524.82L1312.65,525.48L1314.14,526.07L1315.63,526.61L1317.09,527.13L1318.51,527.65L1319.9,528.2L1321.21,528.76L1322.42,529.31L1323.59,529.84L1324.74,530.36L1325.92,530.86L1327.17,531.35L1328.51,531.83L1330,532.3L1331.57,532.76L1333.17,533.21L1334.83,533.64L1336.57,534.07L1338.43,534.48L1340.43,534.87L1342.61,535.25L1345,535.6L1346.97,535.94L1348.23,536.26L1349.29,536.57L1350.69,536.86L1352.93,537.13L1356.55,537.38L1362.07,537.6L1370,537.8L1381.61,537.96L1396.95,538.1L1414.7,538.2L1433.56,538.29L1452.23,538.35L1469.4,538.41L1483.76,538.46L1494,538.5" fill="none" stroke="#ac3a60" stroke-width="5.5" stroke-linejoin="round"/>
</g>
<path d="M881.0,43.8V543.5999999999999M1494.5,43.8V543.5999999999999M881.0,44.8H1494.5M881.0,539.3H1494.5" stroke="#000" stroke-width="2" fill="none"/>
<path d="M871.0,538.8H881.0M876.0,477.06H881.0M1494.5,477.06H1489.5M871.0,415.32H881.0M1494.5,415.32H1484.5M876.0,353.58H881.0M1494.5,353.58H1489.5M871.0,291.84H881.0M1494.5,291.84H1484.5M876.0,230.1H881.0M1494.5,230.1H1489.5M871.0,168.36H881.0M1494.5,168.36H1484.5M876.0,106.62H881.0M1494.5,106.62H1489.5M871.0,44.88H881.0M942.44,539.3V549.3M942.44,44.8V53.8M1003.68,539.3V544.3M1003.68,44.8V53.8M1064.92,539.3V549.3M1064.92,44.8V53.8M1126.16,539.3V544.3M1126.16,44.8V53.8M1187.4,539.3V549.3M1187.4,44.8V53.8M1248.64,539.3V544.3M1248.64,44.8V53.8M1309.88,539.3V549.3M1309.88,44.8V53.8M1371.12,539.3V544.3M1371.12,44.8V53.8M1432.36,539.3V549.3M1432.36,44.8V53.8" stroke="#000" stroke-width="1.6" fill="none"/>
<rect x="1329.6" y="64.3" width="145.8" height="156.3" fill="#fff" stroke="#000" stroke-width="1"/>
<path d="M1331.1,75.1H1366.3" stroke="#a2e40c" stroke-width="1.8" fill="none"/>
<circle cx="1348.5" cy="75.1" r="3.3" fill="#a2e40c"/>
<text x="1370.2" y="79.8" font-size="15.1">RECW-2h-exp</text>
<path d="M1331.1,94.43H1366.3" stroke="#ffd200" stroke-width="1.8" fill="none"/>
<path d="M1345.4,91.33H1351.6V97.53H1345.4Z" fill="#ffd200"/>
<text x="1370.2" y="99.13" font-size="15.1">RECW-8h-exp</text>
<path d="M1331.1,113.76H1366.3" stroke="#ff5000" stroke-width="1.8" fill="none"/>
<path d="M1348.5,110.16L1351.62,111.96L1351.62,115.56L1348.5,117.36L1345.38,115.56L1345.38,111.96Z" fill="#ff5000"/>
<text x="1370.2" y="118.46" font-size="15.1">RECW-16h-exp</text>
<path d="M1331.1,133.09H1366.3" stroke="#e8043f" stroke-width="1.8" fill="none"/>
<circle cx="1348.5" cy="133.09" r="3.3" fill="#e8043f"/>
<text x="1370.2" y="137.79" font-size="15.1">RECW-64h-exp</text>
<path d="M1332.5,152.42H1365.5" stroke="#505050" stroke-width="6.2" stroke-linecap="round" fill="none"/>
<text x="1370.2" y="157.12" font-size="15.1">RECW-2h- fit</text>
<path d="M1332.5,171.75H1365.5" stroke="#d4a82c" stroke-width="6.2" stroke-linecap="round" fill="none"/>
<text x="1370.2" y="176.45" font-size="15.1">RECW-8h- fit</text>
<path d="M1332.5,191.08H1365.5" stroke="#cd6434" stroke-width="6.2" stroke-linecap="round" fill="none"/>
<text x="1370.2" y="195.78" font-size="15.1">RECW-16h- fit</text>
<path d="M1332.5,210.41H1365.5" stroke="#ac3a60" stroke-width="6.2" stroke-linecap="round" fill="none"/>
<text x="1370.2" y="215.11" font-size="15.1">RECW-64h- fit</text>
<text x="864" y="547.1" font-size="26" text-anchor="end">0</text>
<text x="864" y="423.62" font-size="26" text-anchor="end">2</text>
<text x="864" y="300.14" font-size="26" text-anchor="end">4</text>
<text x="864" y="176.66" font-size="26" text-anchor="end">6</text>
<text x="864" y="53.18" font-size="26" text-anchor="end">8</text>
<text x="942.44" y="575.6" font-size="26" text-anchor="middle">400</text>
<text x="1064.92" y="575.6" font-size="26" text-anchor="middle">600</text>
<text x="1187.4" y="575.6" font-size="26" text-anchor="middle">800</text>
<text x="1309.88" y="575.6" font-size="26" text-anchor="middle">1000</text>
<text x="1432.36" y="575.6" font-size="26" text-anchor="middle">1200</text>
<text x="1187.2" y="623.9" font-size="30.9" text-anchor="middle">Temperature (K)</text>
<text transform="translate(833.6,290) rotate(-90)" font-size="30.4" text-anchor="middle">Desorption rate (x10<tspan font-size="19" dy="-11">18</tspan><tspan dy="11"> D</tspan><tspan font-size="19" dy="6">2</tspan><tspan dy="-6">/m</tspan><tspan font-size="19" dy="-11">2</tspan><tspan dy="11">s)</tspan></text>
<text x="798.6" y="24.4" font-size="37">(b)</text>
</svg>
</body></html>
